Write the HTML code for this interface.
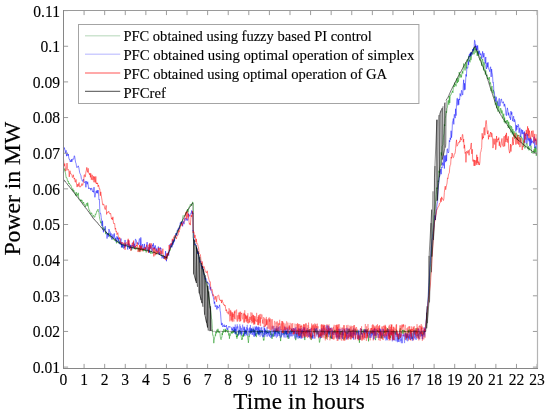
<!DOCTYPE html><html><head><meta charset="utf-8"><style>html,body{margin:0;padding:0;background:#fff;}svg{display:block}</style></head><body><svg width="550" height="414" viewBox="0 0 550 414">
<rect width="550" height="414" fill="#fff"/>
<g fill="none" stroke-linejoin="round">
<polyline stroke="#008c00" stroke-width="0.48" points="63.40,172.28 63.85,171.25 64.30,170.42 64.75,168.49 65.20,172.09 65.65,173.95 66.10,177.77 66.55,177.73 67.00,177.84 67.45,180.87 67.90,181.57 68.35,180.91 68.80,183.94 69.25,183.11 69.70,184.02 70.15,185.35 70.60,184.92 71.05,185.91 71.50,186.87 71.95,189.52 72.40,190.10 72.85,188.61 73.30,191.47 73.75,190.10 74.20,191.22 74.65,192.43 75.10,192.32 75.55,195.46 76.00,193.46 76.45,192.33 76.90,195.93 77.35,194.47 77.80,195.20 78.25,192.81 78.70,197.96 79.15,198.32 79.60,198.87 80.05,199.67 80.50,201.10 80.95,199.59 81.40,201.35 81.85,199.91 82.30,201.05 82.75,203.45 83.20,203.36 83.65,201.99 84.10,204.73 84.55,204.79 85.00,204.73 85.45,206.94 85.90,205.46 86.35,203.43 86.80,203.36 87.25,206.19 87.70,202.63 88.15,205.21 88.60,207.90 89.05,210.37 89.50,210.14 89.95,211.75 90.40,212.82 90.85,214.13 91.30,212.92 91.75,212.82 92.20,215.90 92.65,216.48 93.10,216.04 93.55,215.32 94.00,216.99 94.45,217.08 94.90,217.21 95.35,213.80 95.80,214.54 96.25,213.31 96.70,211.10 97.15,211.40 97.60,209.90 98.05,209.15 98.50,212.05 98.95,212.44 99.40,216.82 99.85,219.38 100.30,220.95 100.75,223.19 101.20,221.62 101.65,222.40 102.10,225.66 102.55,227.02 103.00,229.69 103.45,228.55 103.90,227.43 104.35,230.11 104.80,228.80 105.25,228.69 105.70,234.14 106.15,231.88 106.60,232.81 107.05,233.10 107.50,235.07 107.95,233.71 108.40,235.30 108.85,233.07 109.30,233.11 109.75,236.96 110.20,237.41 110.65,236.64 111.10,236.69 111.55,237.01 112.00,236.37 112.45,239.43 112.90,238.76 113.35,238.96 113.80,239.19 114.25,240.36 114.70,240.03 115.15,240.64 115.60,238.66 116.05,240.99 116.50,243.32 116.95,240.39 117.40,241.17 117.85,242.72 118.30,243.11 118.75,243.03 119.20,240.66 119.65,243.52 120.10,241.81 120.55,242.56 121.00,244.49 121.45,243.65 121.90,245.14 122.35,247.69 122.80,245.43 123.25,245.53 123.70,243.75 124.15,244.22 124.60,243.88 125.05,244.68 125.50,244.18 125.95,244.86 126.40,245.57 126.85,244.78 127.30,244.45 127.75,244.68 128.20,247.02 128.65,246.72 129.10,248.04 129.55,248.23 130.00,246.73 130.45,248.11 130.90,245.74 131.35,250.37 131.80,249.23 132.25,247.62 132.70,246.55 133.15,248.48 133.60,245.85 134.05,247.24 134.50,249.14 134.95,248.41 135.40,247.81 135.85,249.61 136.30,247.30 136.75,248.96 137.20,248.09 137.65,247.75 138.10,249.40 138.55,247.72 139.00,251.27 139.45,248.36 139.90,251.53 140.35,247.90 140.80,250.01 141.25,247.92 141.70,247.83 142.15,249.70 142.60,250.40 143.05,248.16 143.50,251.23 143.95,248.98 144.40,250.21 144.85,250.63 145.30,251.01 145.75,248.25 146.20,252.47 146.65,251.33 147.10,250.26 147.55,249.66 148.00,248.98 148.45,249.50 148.90,251.90 149.35,250.96 149.80,250.13 150.25,250.98 150.70,253.61 151.15,251.45 151.60,251.27 152.05,253.71 152.50,252.76 152.95,252.38 153.40,251.72 153.85,250.74 154.30,251.37 154.75,252.38 155.20,252.87 155.65,253.74 156.10,254.15 156.55,253.93 157.00,254.11 157.45,252.81 157.90,251.61 158.35,253.75 158.80,253.41 159.25,253.95 159.70,254.58 160.15,253.59 160.60,253.93 161.05,255.32 161.50,255.76 161.95,255.01 162.40,256.57 162.85,255.89 163.30,255.10 163.75,256.55 164.20,258.94 164.65,256.05 165.10,258.44 165.55,258.87 166.00,259.20 166.45,256.59 166.90,259.06 167.35,255.71 167.80,254.19 168.25,253.15 168.70,253.07 169.15,251.33 169.60,249.99 170.05,250.66 170.50,247.18 170.95,245.72 171.40,246.85 171.85,245.67 172.30,245.07 172.75,241.39 173.20,242.90 173.65,241.11 174.10,241.57 174.55,236.88 175.00,237.58 175.45,235.92 175.90,233.29 176.35,233.27 176.80,234.42 177.25,231.44 177.70,230.08 178.15,230.92 178.60,230.01 179.05,228.94 179.50,225.75 179.95,225.56 180.40,225.81 180.85,222.72 181.30,221.55 181.75,222.39 182.20,222.38 182.65,218.23 183.10,215.61 183.55,216.09 184.00,215.72 184.45,215.88 184.90,215.89 185.35,214.09 185.80,212.53 186.25,212.66 186.70,210.43 187.15,210.64 187.60,209.10 188.05,212.52 188.50,209.71 188.95,207.15 189.40,206.38 189.85,206.48 190.30,204.46 190.75,204.98 191.20,204.40 191.65,205.77 192.10,203.63 192.55,202.62 192.60,201.89 193.30,203.50 193.40,238.00 193.36,238.73 193.62,240.24 193.88,240.84 194.14,241.06 194.40,240.95 194.66,242.58 194.92,243.35 195.18,245.46 195.44,245.71 195.70,246.03 195.96,246.82 196.22,248.50 196.48,248.03 196.74,250.35 197.00,250.93 197.26,251.34 197.52,252.76 197.78,253.01 198.04,253.38 198.30,254.80 198.56,254.94 198.82,255.89 199.08,257.47 199.34,259.11 199.60,258.74 199.86,260.20 200.12,262.02 200.38,262.59 200.64,263.60 200.90,264.02 201.16,264.71 201.42,265.56 201.68,266.47 201.94,267.06 202.20,267.72 202.46,268.34 202.72,268.86 202.98,270.34 203.24,272.01 203.50,272.44 203.76,272.53 204.02,274.71 204.28,274.28 204.54,277.18 204.80,277.73 205.06,278.66 205.32,279.48 205.58,281.42 205.84,280.90 206.10,282.03 206.36,284.15 206.62,284.82 206.88,286.15 207.14,287.53 207.40,287.66 207.66,291.09 207.92,292.30 208.18,292.96 208.44,296.06 208.70,297.47 208.96,299.59 209.22,301.52 209.48,303.84 209.74,303.92 210.00,307.49 210.26,308.27 210.52,309.56 210.78,311.99 211.04,314.05 211.30,317.19 211.56,318.53 211.82,319.69 212.08,323.95 212.34,328.46 212.50,332.13 212.50,332.84 212.76,335.12 213.02,334.88 213.28,336.52 213.54,338.30 213.80,343.18 214.06,340.56 214.32,339.03 214.58,337.62 214.84,336.76 215.10,336.46 215.36,334.48 215.62,335.54 215.88,331.88 216.14,333.48 216.40,331.96 216.66,332.39 216.92,329.72 217.18,331.43 217.44,331.51 217.70,331.28 217.96,328.80 218.22,332.74 218.48,331.10 218.74,331.03 219.00,331.27 219.26,331.30 219.52,332.56 219.78,331.86 220.04,333.79 220.30,336.86 220.56,338.15 220.82,338.95 221.08,339.70 221.34,337.88 221.60,337.41 221.86,337.54 222.12,333.14 222.38,335.02 222.64,332.70 222.90,331.01 223.16,332.62 223.42,329.69 223.68,329.35 223.94,329.92 224.20,331.07 224.46,331.18 224.72,330.93 224.98,331.73 225.24,328.82 225.50,332.24 225.76,329.75 226.02,330.74 226.28,331.06 226.54,330.10 226.80,329.82 227.06,330.29 227.32,331.58 227.58,332.37 227.84,332.33 228.10,330.31 228.36,331.61 228.62,332.56 228.88,335.47 229.14,333.35 229.40,338.73 229.66,336.76 229.92,335.26 230.18,335.60 230.44,335.38 230.70,333.36 230.96,333.17 231.22,331.77 231.48,333.20 231.74,333.22 232.00,331.47 232.26,333.47 232.52,331.81 232.78,331.71 233.04,330.40 233.30,331.22 233.56,332.61 233.82,329.89 234.08,332.44 234.34,332.05 234.60,331.96 234.86,328.73 235.12,331.47 235.38,333.08 235.64,332.17 235.90,334.20 236.16,331.91 236.42,336.80 236.68,335.98 236.94,338.72 237.20,334.27 237.46,336.65 237.72,334.52 237.98,334.95 238.24,331.78 238.50,331.26 238.76,334.52 239.02,330.52 239.28,330.68 239.54,331.24 239.80,330.27 240.06,333.15 240.32,333.84 240.58,331.43 240.84,331.33 241.10,336.33 241.36,337.48 241.62,338.34 241.88,340.01 242.14,338.61 242.40,339.11 242.66,336.30 242.92,335.02 243.18,336.91 243.44,333.53 243.70,336.13 243.96,332.03 244.22,330.77 244.48,332.64 244.74,333.94 245.00,332.23 245.26,330.02 245.52,332.08 245.78,333.39 246.04,330.96 246.30,330.59 246.56,332.92 246.82,332.41 247.08,332.39 247.34,334.91 247.60,336.01 247.86,338.96 248.12,340.30 248.38,342.85 248.64,340.69 248.90,336.15 249.16,337.12 249.42,336.18 249.68,334.02 249.94,333.18 250.20,330.89 250.46,330.36 250.72,332.81 250.98,330.21 251.24,328.79 251.50,332.93 251.76,330.66 252.02,331.20 252.28,329.78 252.54,329.88 252.80,330.10 253.06,331.13 253.32,332.08 253.58,328.61 253.84,332.58 254.10,330.06 254.36,330.21 254.62,332.48 254.88,331.50 255.14,330.16 255.40,335.75 255.66,333.43 255.92,336.06 256.18,336.74 256.44,337.12 256.70,333.50 256.96,334.21 257.22,330.74 257.48,333.06 257.74,330.61 258.00,331.13 258.26,334.06 258.52,332.01 258.78,331.74 259.04,334.51 259.30,332.07 259.56,330.54 259.82,332.56 260.08,330.06 260.34,333.07 260.60,333.17 260.86,330.86 261.12,330.78 261.38,331.83 261.64,331.62 261.90,330.33 262.16,332.94 262.42,331.09 262.68,334.74 262.94,336.33 263.20,338.05 263.46,340.35 263.72,339.53 263.98,340.34 264.24,337.79 264.50,335.63 264.76,333.14 265.02,331.83 265.28,332.28 265.54,330.35 265.80,331.68 266.06,332.98 266.32,332.94 266.58,333.63 266.84,331.21 267.10,330.19 267.36,332.93 267.62,332.00 267.88,333.06 268.14,331.61 268.40,333.15 268.66,332.70 268.92,332.53 269.18,332.25 269.44,332.12 269.70,331.90 269.96,331.89 270.22,332.89 270.48,331.27 270.74,334.92 271.00,333.25 271.26,335.40 271.52,334.73 271.78,335.25 272.04,338.94 272.30,336.36 272.56,334.37 272.82,334.38 273.08,334.17 273.34,336.65 273.60,333.39 273.86,333.61 274.12,330.36 274.38,332.06 274.64,332.47 274.90,333.94 275.16,330.69 275.42,332.38 275.68,331.99 275.94,330.27 276.20,331.57 276.46,331.26 276.72,328.58 276.98,332.38 277.24,332.30 277.50,331.03 277.76,329.86 278.02,333.52 278.28,331.95 278.54,332.92 278.80,333.43 279.06,330.92 279.32,333.29 279.58,333.40 279.84,335.11 280.10,336.56 280.36,338.15 280.62,341.09 280.88,338.53 281.14,336.69 281.40,335.05 281.66,334.37 281.92,331.28 282.18,330.95 282.44,331.53 282.70,330.86 282.96,331.45 283.22,330.81 283.48,334.21 283.74,333.33 284.00,332.18 284.26,331.53 284.52,334.45 284.78,332.02 285.04,331.49 285.30,331.99 285.56,332.00 285.82,333.43 286.08,331.58 286.34,334.33 286.60,330.84 286.86,333.86 287.12,332.63 287.38,337.26 287.64,335.44 287.90,336.76 288.16,339.01 288.42,338.50 288.68,334.45 288.94,334.47 289.20,332.14 289.46,333.16 289.72,331.88 289.98,331.15 290.24,330.71 290.50,331.10 290.76,330.63 291.02,332.29 291.28,333.57 291.54,329.09 291.80,331.45 292.06,331.06 292.32,332.24 292.58,330.36 292.84,331.41 293.10,330.25 293.36,332.51 293.62,331.73 293.88,331.39 294.14,332.08 294.40,331.43 294.66,331.32 294.92,335.71 295.18,336.89 295.44,337.91 295.70,340.18 295.96,338.90 296.22,334.30 296.48,333.12 296.74,334.56 297.00,333.44 297.26,330.64 297.52,330.07 297.78,330.77 298.04,331.70 298.30,331.13 298.56,334.08 298.82,333.22 299.08,334.16 299.34,337.77 299.60,336.54 299.86,336.79 300.12,336.85 300.38,336.24 300.64,333.90 300.90,333.55 301.16,331.57 301.42,334.06 301.68,332.44 301.94,330.17 302.20,331.61 302.46,332.53 302.72,332.22 302.98,333.98 303.24,333.38 303.50,331.07 303.76,332.78 304.02,332.35 304.28,335.46 304.54,336.45 304.80,340.07 305.06,335.58 305.32,331.61 305.58,332.34 305.84,332.23 306.10,329.97 306.36,330.47 306.62,331.12 306.88,332.04 307.14,331.39 307.40,330.44 307.66,332.62 307.92,330.90 308.18,330.95 308.44,329.81 308.70,330.58 308.96,332.45 309.22,329.50 309.48,331.74 309.74,333.86 310.00,333.54 310.26,335.44 310.52,334.77 310.78,339.03 311.04,339.85 311.30,339.83 311.56,336.16 311.82,335.99 312.08,337.52 312.34,337.38 312.60,334.44 312.86,334.57 313.12,331.06 313.38,331.35 313.64,331.60 313.90,332.15 314.16,329.61 314.42,332.82 314.68,333.32 314.94,330.11 315.20,329.84 315.46,332.06 315.72,330.75 315.98,328.52 316.24,332.65 316.50,331.80 316.76,330.98 317.02,334.35 317.28,331.78 317.54,330.62 317.80,332.30 318.06,332.17 318.32,333.89 318.58,336.74 318.84,336.88 319.10,338.37 319.36,342.48 319.62,342.33 319.88,340.90 320.14,339.19 320.40,337.77 320.66,337.68 320.92,334.40 321.18,335.48 321.44,330.47 321.70,331.27 321.96,329.81 322.22,331.15 322.48,332.27 322.74,333.49 323.00,330.74 323.26,331.61 323.52,331.13 323.78,330.64 324.04,330.54 324.30,332.93 324.56,331.36 324.82,334.51 325.08,335.15 325.34,335.03 325.60,335.33 325.86,335.42 326.12,338.89 326.38,333.95 326.64,336.96 326.90,334.96 327.16,332.95 327.42,331.16 327.68,333.26 327.94,333.85 328.20,330.39 328.46,331.21 328.72,332.97 328.98,332.04 329.24,334.20 329.50,330.86 329.76,332.64 330.02,331.98 330.28,338.00 330.54,335.99 330.80,335.74 331.06,338.98 331.32,337.29 331.58,338.30 331.84,333.70 332.10,332.46 332.36,332.37 332.62,333.66 332.88,331.52 333.14,332.95 333.40,332.27 333.66,331.21 333.92,331.70 334.18,331.64 334.44,330.41 334.70,333.18 334.96,329.80 335.22,333.12 335.48,332.84 335.74,331.48 336.00,330.60 336.26,331.31 336.52,332.21 336.78,332.57 337.04,331.97 337.30,332.89 337.56,330.88 337.82,332.69 338.08,331.44 338.34,335.57 338.60,335.88 338.86,336.24 339.12,338.84 339.38,337.13 339.64,331.63 339.90,334.09 340.16,331.05 340.42,333.23 340.68,334.84 340.94,330.93 341.20,331.70 341.46,331.27 341.72,332.06 341.98,332.44 342.24,333.27 342.50,330.32 342.76,334.94 343.02,333.18 343.28,336.24 343.54,338.88 343.80,339.80 344.06,339.14 344.32,339.04 344.58,337.86 344.84,336.90 345.10,336.96 345.36,332.30 345.62,333.09 345.88,332.39 346.14,332.33 346.40,332.21 346.66,333.57 346.92,332.23 347.18,332.71 347.44,332.33 347.70,333.93 347.96,329.13 348.22,333.27 348.48,331.26 348.74,331.24 349.00,330.34 349.26,329.17 349.52,331.10 349.78,330.71 350.04,332.24 350.30,330.63 350.56,335.85 350.82,335.80 351.08,336.58 351.34,337.07 351.60,335.52 351.86,333.62 352.12,332.93 352.38,332.19 352.64,331.37 352.90,329.76 353.16,331.25 353.42,330.44 353.68,331.81 353.94,334.02 354.20,332.41 354.46,331.19 354.72,329.49 354.98,329.76 355.24,329.41 355.50,332.54 355.76,330.61 356.02,331.68 356.28,330.79 356.54,331.72 356.80,333.42 357.06,330.71 357.32,331.16 357.58,330.55 357.84,332.74 358.10,331.49 358.36,332.67 358.62,333.66 358.88,334.96 359.14,338.72 359.40,342.77 359.66,338.80 359.92,340.01 360.18,337.77 360.44,334.69 360.70,334.44 360.96,333.18 361.22,331.26 361.48,334.11 361.74,329.12 362.00,332.10 362.26,332.03 362.52,330.85 362.78,331.79 363.04,332.74 363.30,331.80 363.56,332.14 363.82,332.50 364.08,328.96 364.34,333.52 364.60,334.56 364.86,332.88 365.12,332.92 365.38,329.77 365.64,331.45 365.90,330.54 366.16,330.84 366.42,332.86 366.68,330.55 366.94,331.43 367.20,329.12 367.46,331.78 367.72,333.82 367.98,334.51 368.24,336.21 368.50,341.32 368.76,336.64 369.02,335.12 369.28,333.72 369.54,334.61 369.80,334.33 370.06,332.03 370.32,330.67 370.58,331.04 370.84,332.98 371.10,330.42 371.36,333.49 371.62,333.44 371.88,331.69 372.14,332.44 372.40,332.57 372.66,333.62 372.92,330.23 373.18,333.14 373.44,331.11 373.70,330.60 373.96,331.73 374.22,331.77 374.48,331.87 374.74,332.18 375.00,334.14 375.26,338.36 375.52,340.13 375.78,338.24 376.04,337.83 376.30,334.51 376.56,333.97 376.82,333.33 377.08,330.45 377.34,330.31 377.60,331.73 377.86,331.18 378.12,330.22 378.38,332.10 378.64,331.26 378.90,332.93 379.16,331.59 379.42,331.21 379.68,331.77 379.94,331.38 380.20,331.53 380.46,332.93 380.72,335.49 380.98,336.41 381.24,338.30 381.50,335.49 381.76,338.24 382.02,338.49 382.28,338.20 382.54,336.33 382.80,335.19 383.06,335.82 383.32,333.97 383.58,331.17 383.84,333.36 384.10,332.90 384.36,330.85 384.62,332.68 384.88,330.64 385.14,333.06 385.40,331.32 385.66,330.56 385.92,331.11 386.18,330.60 386.44,331.85 386.70,331.83 386.96,331.65 387.22,330.88 387.48,328.10 387.74,331.72 388.00,329.13 388.26,332.31 388.52,334.48 388.78,334.38 389.04,334.53 389.30,335.81 389.56,336.88 389.82,337.35 390.08,337.51 390.34,336.06 390.60,337.79 390.86,335.21 391.12,335.46 391.38,332.88 391.64,332.29 391.90,331.38 392.16,332.20 392.42,332.67 392.68,331.91 392.94,330.72 393.20,330.59 393.46,333.76 393.72,331.24 393.98,331.22 394.24,333.50 394.50,333.01 394.76,332.29 395.02,331.08 395.28,334.66 395.54,332.11 395.80,332.31 396.06,331.38 396.32,329.76 396.58,329.86 396.84,332.77 397.10,334.24 397.36,334.91 397.62,335.18 397.88,336.32 398.14,339.25 398.40,337.88 398.66,339.46 398.92,338.30 399.18,338.82 399.44,334.97 399.70,331.57 399.96,330.47 400.22,328.10 400.48,330.83 400.74,331.37 401.00,332.86 401.26,332.40 401.52,332.36 401.78,331.88 402.04,332.46 402.30,333.48 402.56,330.22 402.82,331.01 403.08,329.79 403.34,333.70 403.60,333.29 403.86,332.58 404.12,330.04 404.38,331.82 404.64,331.29 404.90,331.71 405.16,331.36 405.42,332.28 405.68,331.16 405.94,334.54 406.20,335.49 406.46,336.55 406.72,338.54 406.98,337.11 407.24,336.98 407.50,333.82 407.76,332.80 408.02,331.09 408.28,329.67 408.54,332.78 408.80,330.22 409.06,332.48 409.32,332.15 409.58,329.45 409.84,330.37 410.10,330.93 410.36,330.53 410.62,330.06 410.88,333.30 411.14,333.59 411.40,335.97 411.66,336.47 411.92,338.99 412.18,338.65 412.44,338.03 412.70,337.25 412.96,334.99 413.22,332.78 413.48,330.40 413.74,331.82 414.00,332.05 414.26,331.26 414.52,330.60 414.78,332.31 415.04,334.83 415.30,331.21 415.56,332.04 415.82,332.09 416.08,328.26 416.34,331.76 416.60,330.68 416.86,333.40 417.12,331.63 417.38,332.48 417.64,334.74 417.90,336.77 418.16,337.35 418.42,337.54 418.68,334.32 418.94,334.26 419.20,334.03 419.46,334.16 419.72,332.52 419.98,331.95 420.24,333.14 420.50,332.92 420.76,333.76 421.02,333.01 421.28,332.18 421.54,333.49 421.80,334.20 422.06,335.18 422.32,335.86 422.58,335.40 422.84,333.73 423.10,334.77 423.36,332.20 423.62,334.10 423.88,333.21 424.14,330.21 424.40,332.49 424.66,332.73 424.92,331.72 425.00,332.00 425.00,331.09 425.45,329.13 425.90,325.59 426.35,320.22 426.80,316.35 427.25,310.24 427.70,305.66 428.15,299.38 428.60,295.57 429.05,288.57 429.50,282.34 429.95,275.11 430.40,267.24 430.85,259.83 431.30,254.03 431.75,245.58 432.20,239.71 432.65,233.55 433.10,227.77 433.55,221.04 434.00,214.22 434.45,211.39 434.90,207.95 435.35,204.16 435.80,199.98 436.25,194.32 436.70,187.60 437.15,189.08 437.60,186.29 438.05,180.66 438.50,182.09 438.95,170.77 439.40,173.14 439.85,168.44 440.30,166.49 440.75,163.00 441.20,152.37 441.65,155.47 442.10,146.53 442.55,145.54 443.00,144.53 443.45,137.20 443.90,133.33 444.35,124.46 444.80,125.97 445.25,118.66 445.70,115.88 446.15,111.28 446.60,112.73 447.05,107.97 447.50,107.44 447.95,100.51 448.40,100.42 448.85,104.74 449.30,95.86 449.75,102.93 450.20,96.41 450.65,94.78 451.10,94.77 451.55,92.84 452.00,92.23 452.45,90.89 452.90,92.80 453.35,87.64 453.80,85.48 454.25,87.09 454.70,82.56 455.15,85.08 455.60,84.48 456.05,86.31 456.50,78.49 456.95,80.30 457.40,83.10 457.85,77.76 458.30,81.82 458.75,79.72 459.20,72.03 459.65,74.58 460.10,77.58 460.55,74.37 461.00,75.02 461.45,77.38 461.90,73.42 462.35,71.31 462.80,73.50 463.25,68.53 463.70,63.52 464.15,65.33 464.60,67.74 465.05,70.46 465.50,66.24 465.95,62.19 466.40,68.47 466.85,61.75 467.30,59.29 467.75,61.80 468.20,58.97 468.65,55.91 469.10,61.18 469.55,60.23 470.00,62.30 470.45,53.20 470.90,60.20 471.35,58.33 471.80,52.15 472.25,53.67 472.70,54.44 473.15,50.55 473.60,47.73 474.05,54.31 474.50,47.02 474.95,49.72 475.40,48.63 475.85,52.72 476.30,49.76 476.75,49.42 477.20,55.95 477.65,50.72 478.10,55.46 478.55,51.54 479.00,57.78 479.45,58.73 479.90,60.53 480.35,58.20 480.80,56.68 481.25,61.89 481.70,65.78 482.15,60.88 482.60,59.09 483.05,61.85 483.50,70.44 483.95,62.28 484.40,63.86 484.85,65.41 485.30,74.46 485.75,70.48 486.20,74.67 486.65,76.10 487.10,74.71 487.55,79.03 488.00,77.65 488.45,79.79 488.90,78.77 489.35,77.06 489.80,84.30 490.25,82.36 490.70,83.79 491.15,91.16 491.60,87.32 492.05,86.11 492.50,92.78 492.95,93.25 493.40,89.83 493.85,94.13 494.30,98.15 494.75,96.22 495.20,104.68 495.65,104.20 496.10,102.64 496.55,108.15 497.00,100.73 497.45,103.73 497.90,111.51 498.35,108.32 498.80,105.81 499.25,110.69 499.70,113.16 500.15,112.77 500.60,108.07 501.05,108.85 501.50,113.43 501.95,110.40 502.40,111.95 502.85,118.22 503.30,116.71 503.75,113.71 504.20,122.15 504.65,117.60 505.10,123.27 505.55,121.06 506.00,121.71 506.45,120.46 506.90,123.66 507.35,120.09 507.80,120.95 508.25,127.84 508.70,121.85 509.15,124.39 509.60,128.70 510.05,125.27 510.50,126.35 510.95,132.50 511.40,126.19 511.85,127.26 512.30,134.43 512.75,129.03 513.20,130.31 513.65,136.36 514.10,131.29 514.55,138.59 515.00,137.38 515.45,138.18 515.90,132.51 516.35,132.96 516.80,138.86 517.25,140.14 517.70,134.66 518.15,135.02 518.60,135.94 519.05,135.25 519.50,138.45 519.95,139.64 520.40,141.26 520.85,135.90 521.30,137.64 521.75,137.26 522.20,139.16 522.65,138.69 523.10,146.56 523.55,141.30 524.00,139.33 524.45,144.97 524.90,148.41 525.35,146.99 525.80,145.90 526.25,143.54 526.70,144.12 527.15,143.44 527.60,148.82 528.05,149.12 528.50,146.31 528.95,150.37 529.40,148.60 529.85,149.27 530.30,145.43 530.75,145.49 531.20,145.69 531.65,152.87 532.10,152.06 532.55,153.29 533.00,152.77 533.45,152.84 533.90,149.40 534.35,152.94 534.80,147.19 535.25,152.33 535.70,146.45 536.15,155.92 536.60,155.30 537.05,148.40 537.50,154.69"/>
<polyline stroke="#0000ff" stroke-width="0.48" points="63.40,147.23 63.85,149.54 64.30,147.56 64.75,149.14 65.20,151.20 65.65,153.25 66.10,150.31 66.55,156.16 67.00,153.40 67.45,153.15 67.90,155.84 68.35,154.00 68.80,157.96 69.25,159.44 69.70,159.29 70.15,161.66 70.60,160.58 71.05,161.96 71.50,159.31 71.95,161.66 72.40,159.03 72.85,159.12 73.30,159.11 73.75,159.29 74.20,155.68 74.65,156.12 75.10,159.26 75.55,162.21 76.00,163.29 76.45,165.73 76.90,167.64 77.35,166.97 77.80,166.91 78.25,165.81 78.70,167.01 79.15,169.41 79.60,172.35 80.05,173.64 80.50,174.58 80.95,175.68 81.40,178.82 81.85,179.44 82.30,181.13 82.75,181.41 83.20,179.88 83.65,179.13 84.10,182.59 84.55,182.68 85.00,181.58 85.45,181.42 85.90,187.32 86.35,181.25 86.80,182.82 87.25,184.26 87.70,181.71 88.15,184.81 88.60,188.78 89.05,187.80 89.50,188.00 89.95,188.75 90.40,188.16 90.85,190.29 91.30,188.31 91.75,188.11 92.20,189.63 92.65,191.82 93.10,191.11 93.55,192.33 94.00,187.16 94.45,194.41 94.90,197.32 95.35,195.25 95.80,191.82 96.25,190.75 96.70,193.15 97.15,190.32 97.60,193.28 98.05,190.03 98.50,192.52 98.95,199.83 99.40,199.36 99.85,211.55 100.30,213.83 100.75,213.56 101.20,217.43 101.65,220.47 102.10,225.94 102.55,220.81 103.00,228.76 103.45,232.29 103.90,229.25 104.35,229.74 104.80,228.76 105.25,226.12 105.70,231.38 106.15,231.53 106.60,233.04 107.05,238.57 107.50,233.81 107.95,233.28 108.40,236.71 108.85,229.02 109.30,229.88 109.75,232.29 110.20,231.82 110.65,235.84 111.10,233.36 111.55,239.32 112.00,239.01 112.45,237.24 112.90,234.36 113.35,237.41 113.80,238.24 114.25,233.38 114.70,237.57 115.15,238.85 115.60,237.80 116.05,241.97 116.50,241.44 116.95,236.28 117.40,239.34 117.85,237.15 118.30,241.49 118.75,237.97 119.20,243.34 119.65,242.32 120.10,244.37 120.55,241.75 121.00,238.53 121.45,247.56 121.90,242.39 122.35,246.82 122.80,244.38 123.25,245.22 123.70,248.56 124.15,244.63 124.60,247.71 125.05,239.94 125.50,246.58 125.95,243.69 126.40,244.15 126.85,244.71 127.30,245.80 127.75,249.57 128.20,240.08 128.65,245.47 129.10,243.54 129.55,248.88 130.00,244.68 130.45,247.26 130.90,245.08 131.35,248.17 131.80,249.29 132.25,245.19 132.70,246.21 133.15,241.95 133.60,246.48 134.05,247.78 134.50,243.69 134.95,248.08 135.40,239.08 135.85,239.48 136.30,240.46 136.75,242.62 137.20,243.67 137.65,243.07 138.10,242.77 138.55,244.61 139.00,241.00 139.45,238.59 139.90,239.26 140.35,249.11 140.80,237.44 141.25,244.04 141.70,249.15 142.15,247.08 142.60,244.08 143.05,246.47 143.50,248.80 143.95,249.70 144.40,243.87 144.85,248.39 145.30,246.95 145.75,249.25 146.20,249.99 146.65,245.18 147.10,242.10 147.55,247.13 148.00,250.89 148.45,248.03 148.90,246.91 149.35,253.02 149.80,243.70 150.25,249.19 150.70,245.28 151.15,247.12 151.60,247.37 152.05,251.43 152.50,244.83 152.95,246.08 153.40,243.31 153.85,249.17 154.30,246.71 154.75,249.27 155.20,245.30 155.65,247.40 156.10,251.46 156.55,248.57 157.00,251.22 157.45,251.40 157.90,249.43 158.35,246.56 158.80,254.01 159.25,252.22 159.70,254.90 160.15,247.19 160.60,248.86 161.05,248.21 161.50,252.37 161.95,258.33 162.40,257.59 162.85,256.10 163.30,256.72 163.75,258.61 164.20,255.85 164.65,257.93 165.10,257.38 165.55,251.15 166.00,256.26 166.45,261.22 166.90,255.54 167.35,255.25 167.80,252.99 168.25,252.34 168.70,255.78 169.15,250.97 169.60,247.91 170.05,244.13 170.50,247.60 170.95,243.83 171.40,243.13 171.85,247.39 172.30,246.23 172.75,239.99 173.20,244.55 173.65,242.78 174.10,239.31 174.55,241.34 175.00,235.45 175.45,235.13 175.90,233.50 176.35,232.99 176.80,235.81 177.25,230.22 177.70,229.42 178.15,228.66 178.60,229.79 179.05,227.55 179.50,228.79 179.95,224.48 180.40,222.33 180.85,223.47 181.30,224.13 181.75,221.76 182.20,223.75 182.65,226.40 183.10,221.18 183.55,222.00 184.00,224.19 184.45,219.76 184.90,218.94 185.35,218.02 185.80,220.58 186.25,220.38 186.70,218.63 187.15,218.58 187.60,220.52 188.05,218.84 188.50,213.43 188.95,215.34 189.40,215.34 189.85,216.43 190.30,214.39 190.75,213.40 191.20,213.63 191.65,210.51 192.10,213.53 192.55,211.91 192.60,213.98 192.90,213.00 193.10,231.20 193.10,230.31 193.55,234.78 194.00,239.44 194.45,243.39 194.90,245.03 195.35,243.80 195.80,245.26 196.25,246.03 196.70,248.22 197.15,249.08 197.60,253.94 198.05,251.79 198.50,254.05 198.95,258.57 199.40,260.00 199.85,262.53 200.30,261.08 200.75,260.89 201.20,266.21 201.65,265.10 202.10,269.03 202.55,266.76 203.00,268.34 203.45,272.66 203.90,274.59 204.35,275.74 204.80,277.42 205.25,279.58 205.70,278.24 206.15,278.78 206.60,281.09 207.05,282.96 207.50,282.34 207.95,282.30 208.40,283.93 208.85,284.05 209.30,283.64 209.75,287.73 210.20,289.59 210.65,286.89 211.10,290.83 211.55,291.40 212.00,293.67 212.45,293.91 212.90,295.95 213.35,297.50 213.80,299.74 214.25,303.63 214.70,301.66 215.15,306.58 215.60,307.04 216.05,305.25 216.50,307.87 216.95,309.50 217.40,305.64 217.85,308.18 218.30,308.03 218.75,306.80 219.20,306.24 219.65,304.78 220.10,310.56 220.55,313.11 221.00,319.83 221.45,325.17 221.90,322.86 222.35,323.30 222.80,326.97 223.25,325.82 223.70,326.11 224.15,324.61 224.60,326.94 225.05,325.87 225.50,326.93 225.95,326.43 226.40,325.09 226.85,329.31 227.30,328.53 227.75,329.98 228.20,326.83 228.65,326.82 229.10,326.20 229.55,327.17 230.00,327.38 230.45,326.78 230.90,327.30 231.35,327.56 231.80,330.49 232.25,328.54 232.70,330.52 233.15,326.79 233.60,327.59 234.05,331.53 234.50,327.13 234.95,327.33 235.00,329.59 235.00,333.88"/>
<polyline stroke="#0000ff" stroke-width="0.3" points="235.00,333.88 235.22,324.52 235.44,330.82 235.66,329.08 235.88,331.48 236.10,334.70 236.32,332.75 236.54,326.63 236.76,330.76 236.98,330.86 237.20,324.27 237.42,325.73 237.64,328.47 237.86,326.31 238.08,327.03 238.30,332.31 238.52,335.75 238.74,329.72 238.96,331.99 239.18,333.39 239.40,332.34 239.62,332.16 239.84,324.30 240.06,334.74 240.28,326.25 240.50,326.50 240.72,330.46 240.94,331.40 241.16,333.44 241.38,327.90 241.60,335.74 241.82,331.95 242.04,334.55 242.26,330.16 242.48,325.30 242.70,324.61 242.92,332.16 243.14,329.60 243.36,329.79 243.58,328.43 243.80,326.67 244.02,330.23 244.24,327.61 244.46,335.28 244.68,326.73 244.90,336.21 245.12,334.93 245.34,329.22 245.56,333.91 245.78,331.62 246.00,330.25 246.22,334.42 246.44,334.66 246.66,327.12 246.88,335.58 247.10,325.11 247.32,324.81 247.54,330.56 247.76,328.38 247.98,329.85 248.20,330.54 248.42,330.43 248.64,335.71 248.86,335.85 249.08,329.00 249.30,328.31 249.52,332.72 249.74,327.27 249.96,329.70 250.18,333.53 250.40,324.99 250.62,334.20 250.84,333.76 251.06,329.61 251.28,327.95 251.50,331.47 251.72,328.55 251.94,334.87 252.16,332.12 252.38,328.72 252.60,334.75 252.82,332.36 253.04,326.67 253.26,330.06 253.48,330.99 253.70,336.46 253.92,328.98 254.14,330.53 254.36,336.88 254.58,330.29 254.80,335.11 255.02,326.36 255.24,329.94 255.46,327.43 255.68,335.85 255.90,331.89 256.12,327.89 256.34,326.39 256.56,330.34 256.78,326.46 257.00,331.14 257.22,334.08 257.44,329.07 257.66,327.37 257.88,329.71 258.10,327.38 258.32,335.53 258.54,326.57 258.76,334.32 258.98,329.44 259.20,334.19 259.42,334.72 259.64,327.10 259.86,334.57 260.08,336.85 260.30,332.32 260.52,333.26 260.74,329.40 260.96,327.63 261.18,334.48 261.40,335.40 261.62,328.03 261.84,326.93 262.06,329.80 262.28,333.10 262.50,329.97 262.72,337.17 262.94,335.11 263.16,336.61 263.38,332.82 263.60,334.70 263.82,337.06 264.04,326.08 264.26,332.56 264.48,327.91 264.70,335.22 264.92,328.48 265.14,334.59 265.36,329.69 265.58,333.53 265.80,333.87 266.02,336.63 266.24,336.20 266.46,331.00 266.68,334.02 266.90,327.95 267.12,326.94 267.34,334.34 267.56,336.67 267.78,334.75 268.00,332.00 268.22,333.36 268.44,334.58 268.66,332.66 268.88,330.19 269.10,336.05 269.32,330.28 269.54,336.70 269.76,335.46 269.98,335.39 270.20,335.89 270.42,337.73 270.64,337.78 270.86,331.92 271.08,330.44 271.30,334.72 271.52,337.55 271.74,333.50 271.96,326.26 272.18,326.42 272.40,331.53 272.62,335.43 272.84,336.63 273.06,330.49 273.28,332.20 273.50,332.16 273.72,327.15 273.94,326.03 274.16,332.32 274.38,332.09 274.60,336.41 274.82,328.24 275.04,336.29 275.26,329.33 275.48,332.55 275.70,334.57 275.92,327.84 276.14,337.46 276.36,337.61 276.58,337.76 276.80,326.16 277.02,333.86 277.24,334.20 277.46,336.71 277.68,328.58 277.90,327.66 278.12,335.89 278.34,329.33 278.56,326.99 278.78,327.31 279.00,333.95 279.22,332.65 279.44,335.20 279.66,335.92 279.88,326.28 280.10,337.45 280.32,336.82 280.54,337.47 280.76,335.50 280.98,330.89 281.20,329.27 281.42,337.25 281.64,331.35 281.86,332.17 282.08,334.71 282.30,334.60 282.52,334.67 282.74,333.84 282.96,332.46 283.18,335.57 283.40,331.13 283.62,329.53 283.84,337.30 284.06,336.55 284.28,335.03 284.50,328.44 284.72,326.97 284.94,337.50 285.16,337.76 285.38,329.72 285.60,334.01 285.82,326.69 286.04,331.20 286.26,334.93 286.48,330.83 286.70,336.19 286.92,337.46 287.14,328.16 287.36,334.78 287.58,331.05 287.80,328.64 288.02,330.74 288.24,332.34 288.46,337.32 288.68,335.76 288.90,326.65 289.12,327.27 289.34,338.53 289.56,333.29 289.78,333.94 290.00,330.86 290.22,336.61 290.44,333.33 290.66,333.76 290.88,329.65 291.10,335.99 291.32,329.24 291.54,328.33 291.76,333.86 291.98,336.69 292.20,330.22 292.42,330.34 292.64,328.52 292.86,333.97 293.08,335.99 293.30,328.26 293.52,333.18 293.74,333.24 293.96,328.05 294.18,333.15 294.40,330.05 294.62,329.19 294.84,338.63 295.06,327.90 295.28,330.94 295.50,334.25 295.72,331.70 295.94,327.06 296.16,337.25 296.38,329.73 296.60,331.82 296.82,337.78 297.04,338.52 297.26,337.87 297.48,331.84 297.70,335.84 297.92,337.10 298.14,329.30 298.36,338.57 298.58,328.16 298.80,334.85 299.02,329.83 299.24,329.55 299.46,328.63 299.68,338.29 299.90,328.54 300.12,337.95 300.34,328.99 300.56,330.95 300.78,329.54 301.00,338.86 301.22,328.12 301.44,337.33 301.66,330.61 301.88,338.43 302.10,336.00 302.32,330.17 302.54,333.12 302.76,328.93 302.98,331.89 303.20,327.32 303.42,335.18 303.64,334.12 303.86,330.26 304.08,327.16 304.30,338.27 304.52,328.50 304.74,330.93 304.96,327.30 305.18,331.60 305.40,331.82 305.62,333.40 305.84,330.88 306.06,330.00 306.28,336.43 306.50,330.35 306.72,330.98 306.94,332.89 307.16,330.29 307.38,335.72 307.60,328.01 307.82,330.88 308.04,332.05 308.26,330.10 308.48,337.08 308.70,331.25 308.92,332.05 309.14,332.63 309.36,336.96 309.58,329.62 309.80,336.95 310.02,338.38 310.24,330.19 310.46,329.03 310.68,336.46 310.90,330.75 311.12,329.73 311.34,327.94 311.56,334.37 311.78,338.24 312.00,337.58 312.22,334.07 312.44,332.26 312.66,338.72 312.88,334.92 313.10,338.47 313.32,335.26 313.54,335.36 313.76,335.41 313.98,328.51 314.20,330.03 314.42,327.79 314.64,338.19 314.86,338.93 315.08,334.26 315.30,328.87 315.52,328.49 315.74,332.35 315.96,331.69 316.18,329.35 316.40,328.07 316.62,334.77 316.84,336.51 317.06,327.76 317.28,330.71 317.50,330.61 317.72,333.51 317.94,334.25 318.16,331.93 318.38,337.39 318.60,331.69 318.82,330.64 319.04,336.20 319.26,337.10 319.48,337.53 319.70,329.03 319.92,329.36 320.14,332.46 320.36,338.37 320.58,334.06 320.80,333.95 321.02,330.24 321.24,338.06 321.46,328.22 321.68,332.59 321.90,333.83 322.12,335.31 322.34,335.20 322.56,329.93 322.78,328.40 323.00,336.76 323.22,331.49 323.44,328.09 323.66,326.22 323.88,334.05 324.10,334.45 324.32,330.96 324.54,328.58 324.76,331.74 324.98,335.44 325.20,330.47 325.42,332.83 325.64,333.82 325.86,332.18 326.08,328.90 326.30,325.36 326.52,331.75 326.74,333.53 326.96,335.27 327.18,325.71 327.40,325.41 327.62,331.85 327.84,334.31 328.06,325.46 328.28,332.08 328.50,328.07 328.72,337.03 328.94,329.54 329.16,326.35 329.38,334.93 329.60,329.31 329.82,330.89 330.04,327.60 330.26,330.17 330.48,327.96 330.70,329.61 330.92,333.63 331.14,330.44 331.36,335.03 331.58,338.00 331.80,334.27 332.02,327.84 332.24,339.02 332.46,329.88 332.68,331.66 332.90,333.83 333.12,334.94 333.34,331.62 333.56,332.80 333.78,335.04 334.00,333.01 334.22,330.92 334.44,332.45 334.66,332.14 334.88,331.03 335.10,334.74 335.32,333.68 335.54,332.48 335.76,336.05 335.98,337.29 336.20,335.33 336.42,331.64 336.64,338.79 336.86,328.80 337.08,337.22 337.30,332.61 337.52,332.32 337.74,337.68 337.96,335.43 338.18,339.25 338.40,338.10 338.62,328.96 338.84,333.61 339.06,336.78 339.28,328.57 339.50,334.09 339.72,339.49 339.94,330.45 340.16,328.99 340.38,331.06 340.60,331.72 340.82,331.02 341.04,332.78 341.26,337.60 341.48,333.81 341.70,334.67 341.92,328.91 342.14,328.38 342.36,339.02 342.58,331.78 342.80,338.98 343.02,331.64 343.24,335.29 343.46,335.56 343.68,328.70 343.90,328.48 344.12,332.93 344.34,329.16 344.56,331.18 344.78,329.98 345.00,331.39 345.22,333.11 345.44,331.38 345.66,331.67 345.88,333.48 346.10,335.84 346.32,328.15 346.54,339.62 346.76,332.82 346.98,338.73 347.20,327.75 347.42,328.35 347.64,328.85 347.86,338.62 348.08,332.61 348.30,337.83 348.52,336.01 348.74,328.73 348.96,332.02 349.18,331.66 349.40,333.12 349.62,336.73 349.84,328.69 350.06,338.80 350.28,333.41 350.50,332.08 350.72,336.07 350.94,331.02 351.16,336.25 351.38,332.69 351.60,333.44 351.82,329.98 352.04,330.15 352.26,338.05 352.48,334.63 352.70,332.78 352.92,337.02 353.14,338.67 353.36,329.63 353.58,339.70 353.80,327.90 354.02,335.10 354.24,330.90 354.46,330.76 354.68,333.67 354.90,334.99 355.12,332.98 355.34,336.31 355.56,339.15 355.78,329.77 356.00,330.60 356.22,335.07 356.44,332.68 356.66,331.54 356.88,333.81 357.10,336.12 357.32,338.67 357.54,339.06 357.76,337.60 357.98,331.93 358.20,338.38 358.42,336.29 358.64,329.87 358.86,339.22 359.08,330.75 359.30,335.97 359.52,336.12 359.74,338.69 359.96,335.79 360.18,339.59 360.40,328.51 360.62,328.25 360.84,330.15 361.06,334.71 361.28,332.89 361.50,328.80 361.72,330.23 361.94,334.76 362.16,332.64 362.38,336.98 362.60,333.42 362.82,338.35 363.04,336.93 363.26,333.76 363.48,332.12 363.70,330.40 363.92,331.34 364.14,332.10 364.36,332.17 364.58,329.99 364.80,333.52 365.02,329.19 365.24,338.27 365.46,334.45 365.68,328.99 365.90,331.79 366.12,330.92 366.34,329.73 366.56,333.63 366.78,330.06 367.00,329.68 367.22,336.29 367.44,333.02 367.66,335.94 367.88,333.51 368.10,333.92 368.32,331.61 368.54,333.00 368.76,333.65 368.98,331.99 369.20,337.80 369.42,330.85 369.64,330.54 369.86,332.03 370.08,337.32 370.30,338.07 370.52,334.68 370.74,332.23 370.96,335.69 371.18,337.83 371.40,330.83 371.62,335.92 371.84,336.43 372.06,332.60 372.28,329.66 372.50,335.21 372.72,330.45 372.94,332.34 373.16,334.46 373.38,339.48 373.60,329.69 373.82,328.82 374.04,334.40 374.26,339.26 374.48,328.50 374.70,335.65 374.92,328.27 375.14,334.56 375.36,329.38 375.58,335.86 375.80,332.29 376.02,335.81 376.24,331.06 376.46,328.86 376.68,330.15 376.90,331.25 377.12,329.95 377.34,330.35 377.56,334.50 377.78,333.23 378.00,337.88 378.22,333.95 378.44,334.46 378.66,336.51 378.88,338.23 379.10,335.01 379.32,328.43 379.54,333.51 379.76,328.38 379.98,335.26 380.20,328.81 380.42,334.53 380.64,329.88 380.86,338.37 381.08,329.27 381.30,336.08 381.52,336.64 381.74,331.52 381.96,335.36 382.18,332.23 382.40,331.41 382.62,331.44 382.84,328.55 383.06,336.46 383.28,329.27 383.50,330.80 383.72,329.51 383.94,338.14 384.16,334.87 384.38,334.16 384.60,335.57 384.82,338.30 385.04,336.12 385.26,334.82 385.48,332.44 385.70,334.91 385.92,340.59 386.14,335.61 386.36,334.52 386.58,339.48 386.80,329.50 387.02,329.64 387.24,338.38 387.46,340.24 387.68,329.57 387.90,329.28 388.12,329.13 388.34,335.97 388.56,330.72 388.78,335.83 389.00,337.09 389.22,329.34 389.44,339.62 389.66,332.24 389.88,335.88 390.10,333.51 390.32,333.41 390.54,334.16 390.76,329.39 390.98,334.52 391.20,332.58 391.42,333.72 391.64,331.41 391.86,333.50 392.08,337.90 392.30,341.34 392.52,331.93 392.74,339.99 392.96,337.00 393.18,330.86 393.40,329.85 393.62,340.31 393.84,332.54 394.06,331.03 394.28,337.65 394.50,338.29 394.72,340.58 394.94,335.87 395.16,333.64 395.38,333.74 395.60,332.41 395.82,337.60 396.04,341.32 396.26,331.11 396.48,334.81 396.70,334.47 396.92,331.29 397.14,337.54 397.36,342.28 397.58,333.88 397.80,339.37 398.02,341.53 398.24,334.05 398.46,341.91 398.68,339.94 398.90,338.78 399.12,333.44 399.34,334.52 399.56,332.49 399.78,342.10 400.00,341.14 400.22,332.55 400.44,337.96 400.66,334.22 400.88,340.93 401.10,338.70 401.32,343.24 401.54,340.70 401.76,333.27 401.98,336.61 402.20,339.13 402.42,343.23 402.64,336.82 402.86,334.70 403.08,335.86 403.30,335.33 403.52,334.09 403.74,336.26 403.96,335.01 404.18,338.04 404.40,342.53 404.62,343.14 404.84,333.49 405.06,338.30 405.28,339.45 405.50,333.08 405.72,337.52 405.94,333.43 406.16,335.29 406.38,334.70 406.60,340.48 406.82,333.40 407.04,336.96 407.26,337.40 407.48,334.22 407.70,341.30 407.92,334.03 408.14,333.89 408.36,338.26 408.58,335.77 408.80,338.58 409.02,331.69 409.24,331.60 409.46,338.62 409.68,334.42 409.90,340.01 410.12,332.50 410.34,332.55 410.56,339.99 410.78,333.94 411.00,330.89 411.22,332.18 411.44,338.74 411.66,332.66 411.88,336.12 412.10,339.43 412.32,336.71 412.54,338.38 412.76,341.04 412.98,332.88 413.20,339.77 413.42,335.84 413.64,331.61 413.86,330.75 414.08,333.07 414.30,330.75 414.52,338.33 414.74,335.73 414.96,329.54 415.18,339.51 415.40,336.09 415.62,334.23 415.84,330.57 416.06,334.49 416.28,339.83 416.50,335.80 416.72,334.26 416.94,336.02 417.16,335.30 417.38,336.14 417.60,331.02 417.82,330.38 418.04,328.72 418.26,338.52 418.48,328.54 418.70,331.55 418.92,335.46 419.14,334.41 419.36,339.19 419.58,330.90 419.80,329.68 420.02,330.21 420.24,334.23 420.46,331.71 420.68,333.65 420.90,336.41 421.12,331.98 421.34,336.08 421.56,328.30 421.78,334.59 422.00,338.89 422.22,339.06 422.44,334.57 422.66,339.36 422.88,330.24 423.10,330.84 423.32,332.50 423.54,333.08 423.76,336.66 423.98,332.05 424.20,327.11 424.42,334.79 424.64,328.91 424.86,336.68 425.00,328.54"/>
<polyline stroke="#0000ff" stroke-width="0.48" points="425.00,328.54 425.00,331.50 425.45,326.47 425.90,322.66 426.35,317.86 426.80,312.05 427.25,308.09 427.70,303.09 428.15,298.33 428.60,288.96 429.05,281.86 429.50,275.16 429.95,266.38 430.40,260.83 430.85,253.62 431.30,247.13 431.75,244.52 432.20,239.58 432.65,237.58 433.10,232.13 433.55,227.95 434.00,224.42 434.45,221.70 434.90,215.44 435.35,220.07 435.80,214.37 436.25,210.97 436.70,208.53 437.15,203.96 437.60,201.94 438.05,191.24 438.50,185.31 438.95,181.17 439.40,177.09 439.85,175.49 440.30,172.83 440.75,169.06 441.20,174.23 441.65,167.32 442.10,167.99 442.55,162.62 443.00,164.92 443.45,165.47 443.90,156.05 444.35,168.55 444.80,155.43 445.25,156.00 445.70,162.17 446.15,154.90 446.60,161.05 447.05,149.52 447.50,148.71 447.95,152.43 448.40,153.00 448.85,151.41 449.30,140.37 449.75,141.83 450.20,137.85 450.65,139.64 451.10,130.73 451.55,137.73 452.00,132.97 452.45,121.94 452.90,121.07 453.35,118.44 453.80,124.39 454.25,114.33 454.70,114.83 455.15,118.17 455.60,108.78 456.05,115.65 456.50,104.30 456.95,98.48 457.40,98.21 457.85,105.43 458.30,99.32 458.75,104.75 459.20,98.89 459.65,99.83 460.10,93.49 460.55,95.78 461.00,96.26 461.45,90.25 461.90,90.77 462.35,94.87 462.80,94.97 463.25,85.13 463.70,79.76 464.15,90.26 464.60,83.21 465.05,89.69 465.50,83.44 465.95,74.37 466.40,76.40 466.85,67.50 467.30,67.84 467.75,68.26 468.20,61.54 468.65,64.90 469.10,55.06 469.55,53.84 470.00,56.83 470.45,52.37 470.90,55.97 471.35,52.40 471.80,54.64 472.25,52.93 472.70,49.02 473.15,51.16 473.60,48.49 474.05,48.12 474.50,40.17 474.95,40.56 475.40,47.18 475.85,44.60 476.30,50.42 476.75,46.02 477.20,49.94 477.65,45.37 478.10,49.61 478.55,53.28 479.00,54.28 479.45,50.72 479.90,53.26 480.35,55.19 480.80,53.45 481.25,54.39 481.70,58.75 482.15,57.45 482.60,51.35 483.05,54.59 483.50,57.27 483.95,53.15 484.40,59.75 484.85,60.98 485.30,63.44 485.75,56.96 486.20,66.89 486.65,69.01 487.10,62.91 487.55,67.28 488.00,62.30 488.45,67.87 488.90,69.39 489.35,70.21 489.80,71.77 490.25,67.17 490.70,66.78 491.15,76.94 491.60,69.04 492.05,72.94 492.50,74.40 492.95,82.99 493.40,82.56 493.85,90.87 494.30,91.65 494.75,96.19 495.20,97.95 495.65,101.53 496.10,96.73 496.55,98.97 497.00,102.61 497.45,102.43 497.90,105.14 498.35,105.87 498.80,100.20 499.25,98.36 499.70,106.17 500.15,105.88 500.60,101.33 501.05,99.05 501.50,99.01 501.95,102.21 502.40,103.11 502.85,102.91 503.30,101.63 503.75,103.67 504.20,106.42 504.65,103.92 505.10,105.89 505.55,109.27 506.00,114.78 506.45,115.66 506.90,110.66 507.35,107.86 507.80,110.03 508.25,115.35 508.70,112.59 509.15,114.99 509.60,117.44 510.05,116.96 510.50,119.81 510.95,111.13 511.40,114.57 511.85,112.33 512.30,119.08 512.75,121.11 513.20,117.69 513.65,116.22 514.10,122.03 514.55,119.38 515.00,120.61 515.45,123.76 515.90,131.44 516.35,125.17 516.80,129.79 517.25,126.19 517.70,127.02 518.15,124.28 518.60,125.25 519.05,132.72 519.50,129.06 519.95,127.79 520.40,136.81 520.85,136.10 521.30,129.34 521.75,131.98 522.20,134.17 522.65,129.96 523.10,133.69 523.55,132.58 524.00,139.49 524.45,131.50 524.90,142.86 525.35,134.36 525.80,135.82 526.25,133.06 526.70,143.41 527.15,142.70 527.60,133.89 528.05,139.72 528.50,138.38 528.95,141.27 529.40,138.34 529.85,146.09 530.30,137.54 530.75,145.06 531.20,138.54 531.65,143.25 532.10,140.70 532.55,142.00 533.00,142.07 533.45,143.44 533.90,136.86 534.35,136.88 534.80,147.94 535.25,139.44 535.70,140.80 536.15,139.52 536.60,144.51 537.05,148.69 537.50,141.83"/>
<polyline stroke="#ff0000" stroke-width="0.48" points="63.40,157.47 63.85,162.83 64.30,166.20 64.75,163.59 65.20,166.93 65.65,171.11 66.10,170.29 66.55,169.06 67.00,163.07 67.45,168.63 67.90,170.26 68.35,169.46 68.80,170.54 69.25,176.88 69.70,171.59 70.15,170.82 70.60,173.98 71.05,173.60 71.50,174.30 71.95,175.31 72.40,177.59 72.85,177.08 73.30,174.76 73.75,177.45 74.20,179.22 74.65,178.08 75.10,182.10 75.55,182.15 76.00,179.41 76.45,182.82 76.90,186.94 77.35,186.77 77.80,183.99 78.25,186.35 78.70,183.65 79.15,182.55 79.60,187.01 80.05,186.84 80.50,187.03 80.95,185.50 81.40,185.75 81.85,183.62 82.30,185.15 82.75,185.42 83.20,182.46 83.65,182.11 84.10,174.86 84.55,174.74 85.00,177.12 85.45,176.18 85.90,172.00 86.35,170.14 86.80,167.36 87.25,171.08 87.70,172.36 88.15,168.29 88.60,172.82 89.05,173.60 89.50,174.79 89.95,172.94 90.40,177.34 90.85,173.52 91.30,179.75 91.75,177.29 92.20,174.83 92.65,179.99 93.10,179.75 93.55,176.29 94.00,182.28 94.45,176.63 94.90,180.04 95.35,182.55 95.80,176.42 96.25,183.88 96.70,182.79 97.15,183.93 97.60,182.86 98.05,186.72 98.50,185.07 98.95,186.68 99.40,189.05 99.85,188.82 100.30,195.75 100.75,191.84 101.20,195.05 101.65,197.98 102.10,200.68 102.55,204.19 103.00,205.17 103.45,203.86 103.90,204.63 104.35,206.40 104.80,208.90 105.25,209.58 105.70,207.88 106.15,205.40 106.60,214.42 107.05,212.65 107.50,211.89 107.95,212.66 108.40,211.55 108.85,211.20 109.30,213.15 109.75,213.99 110.20,214.05 110.65,213.29 111.10,216.47 111.55,219.15 112.00,217.91 112.45,219.84 112.90,216.84 113.35,222.10 113.80,223.81 114.25,223.13 114.70,223.66 115.15,229.31 115.60,228.11 116.05,231.95 116.50,231.38 116.95,234.71 117.40,233.88 117.85,232.63 118.30,236.55 118.75,236.82 119.20,239.30 119.65,237.59 120.10,237.85 120.55,241.99 121.00,243.38 121.45,242.54 121.90,243.68 122.35,242.33 122.80,243.58 123.25,244.23 123.70,243.20 124.15,242.55 124.60,243.02 125.05,249.82 125.50,243.13 125.95,242.64 126.40,242.51 126.85,243.71 127.30,244.75 127.75,241.00 128.20,238.77 128.65,245.61 129.10,240.34 129.55,245.98 130.00,245.88 130.45,249.05 130.90,250.79 131.35,247.14 131.80,244.57 132.25,242.87 132.70,244.08 133.15,246.59 133.60,240.58 134.05,246.90 134.50,246.74 134.95,248.75 135.40,246.01 135.85,247.37 136.30,245.04 136.75,245.93 137.20,242.24 137.65,247.84 138.10,252.07 138.55,248.15 139.00,248.84 139.45,245.03 139.90,252.13 140.35,245.84 140.80,250.46 141.25,248.52 141.70,245.51 142.15,251.34 142.60,248.49 143.05,249.04 143.50,249.91 143.95,248.61 144.40,247.65 144.85,250.18 145.30,247.73 145.75,249.17 146.20,247.12 146.65,244.81 147.10,247.25 147.55,247.85 148.00,249.40 148.45,252.87 148.90,244.61 149.35,249.96 149.80,243.25 150.25,246.70 150.70,248.32 151.15,243.32 151.60,244.52 152.05,250.41 152.50,250.25 152.95,249.75 153.40,247.81 153.85,256.45 154.30,249.79 154.75,247.82 155.20,255.24 155.65,252.22 156.10,249.42 156.55,254.01 157.00,251.06 157.45,252.53 157.90,251.41 158.35,247.80 158.80,253.66 159.25,251.37 159.70,248.03 160.15,248.90 160.60,254.22 161.05,250.72 161.50,252.26 161.95,254.36 162.40,253.17 162.85,248.71 163.30,255.32 163.75,256.53 164.20,256.66 164.65,259.18 165.10,255.88 165.55,257.42 166.00,260.11 166.45,253.52 166.90,258.27 167.35,257.13 167.80,253.24 168.25,255.17 168.70,251.17 169.15,245.01 169.60,249.73 170.05,246.04 170.50,245.10 170.95,243.38 171.40,244.96 171.85,242.29 172.30,238.84 172.75,240.86 173.20,240.77 173.65,236.86 174.10,236.88 174.55,236.36 175.00,235.22 175.45,236.73 175.90,237.60 176.35,238.93 176.80,236.72 177.25,235.70 177.70,235.33 178.15,235.13 178.60,230.64 179.05,232.26 179.50,230.53 179.95,228.62 180.40,227.00 180.85,225.99 181.30,225.63 181.75,222.56 182.20,225.62 182.65,223.50 183.10,222.90 183.55,222.53 184.00,222.50 184.45,218.65 184.90,218.84 185.35,214.57 185.80,212.30 186.25,212.14 186.70,219.37 187.15,211.21 187.60,215.79 188.05,217.45 188.50,213.91 188.95,221.18 189.40,224.24 189.85,223.42 190.30,225.10 190.75,219.63 191.20,215.06 191.65,216.95 192.10,213.84 192.55,210.98 192.60,210.94 192.90,214.00 193.20,233.00 193.20,231.39 193.65,231.37 194.10,232.40 194.55,237.85 195.00,234.91 195.45,238.38 195.90,242.08 196.35,238.83 196.80,243.98 197.25,243.55 197.70,244.52 198.15,246.59 198.60,247.84 199.05,252.94 199.50,253.84 199.95,254.19 200.40,254.53 200.85,258.65 201.30,263.43 201.75,264.60 202.20,261.48 202.65,265.02 203.10,267.52 203.55,267.67 204.00,266.45 204.45,267.43 204.90,270.06 205.35,271.71 205.80,272.22 206.25,272.49 206.70,273.04 207.15,270.79 207.60,273.79 208.05,276.24 208.50,277.32 208.95,279.58 209.40,281.12 209.85,282.24 210.30,281.74 210.75,288.39 211.20,290.48 211.65,289.98 212.10,289.47 212.55,292.00 213.00,295.66 213.45,294.67 213.90,296.14 214.35,297.05 214.80,299.62 215.25,298.56 215.70,296.16 216.15,299.43 216.60,301.72 217.05,296.61 217.50,295.79 217.95,295.43 218.40,295.19 218.85,295.40 219.30,299.43 219.75,299.16 220.20,300.71 220.65,300.41 221.10,299.96 221.55,303.06 222.00,299.79 222.45,301.37 222.90,302.13 223.35,304.16 223.80,305.08 224.25,304.60 224.70,306.03 225.15,305.25 225.60,308.31 226.05,311.00 226.50,309.64 226.95,312.41 227.40,311.85 227.85,312.78 228.30,314.25 228.50,311.84 228.50,311.68"/>
<polyline stroke="#ff0000" stroke-width="0.3" points="228.50,311.68 228.72,312.23 228.94,308.23 229.16,309.24 229.38,308.88 229.60,312.66 229.82,321.43 230.04,310.66 230.26,316.15 230.48,311.90 230.70,309.87 230.92,320.47 231.14,311.43 231.36,311.72 231.58,320.59 231.80,313.09 232.02,312.47 232.24,322.10 232.46,312.32 232.68,320.56 232.90,313.70 233.12,317.02 233.34,313.67 233.56,313.99 233.78,321.66 234.00,321.30 234.22,311.72 234.44,318.83 234.66,311.18 234.88,313.21 235.10,310.23 235.32,317.74 235.54,318.78 235.76,319.06 235.98,319.44 236.20,314.52 236.42,311.70 236.64,309.47 236.86,315.15 237.08,321.58 237.30,315.29 237.52,317.48 237.74,321.41 237.96,320.72 238.18,319.14 238.40,317.24 238.62,312.57 238.84,319.30 239.06,315.01 239.28,318.78 239.50,312.52 239.72,321.86 239.94,311.78 240.16,319.94 240.38,321.25 240.60,311.67 240.82,320.95 241.04,318.10 241.26,317.58 241.48,313.06 241.70,314.04 241.92,312.84 242.14,315.54 242.36,318.24 242.58,319.30 242.80,319.02 243.02,314.37 243.24,314.25 243.46,319.82 243.68,322.57 243.90,312.80 244.12,315.30 244.34,313.54 244.56,322.64 244.78,310.20 245.00,321.60 245.22,320.03 245.44,314.42 245.66,319.00 245.88,315.01 246.10,318.54 246.32,315.84 246.54,322.25 246.76,316.36 246.98,321.02 247.20,318.00 247.42,315.41 247.64,323.18 247.86,313.21 248.08,322.52 248.30,323.53 248.52,321.86 248.74,318.81 248.96,319.02 249.18,323.04 249.40,316.66 249.62,321.79 249.84,321.20 250.06,322.34 250.28,316.96 250.50,319.77 250.72,312.53 250.94,312.32 251.16,312.83 251.38,321.05 251.60,316.16 251.82,323.40 252.04,312.67 252.26,313.94 252.48,322.62 252.70,317.24 252.92,314.71 253.14,322.05 253.36,315.00 253.58,324.66 253.80,315.63 254.02,323.27 254.24,318.39 254.46,324.37 254.68,316.11 254.90,324.34 255.12,316.30 255.34,318.24 255.56,320.69 255.78,319.72 256.00,321.29 256.22,321.67 256.44,316.15 256.66,312.83 256.88,322.18 257.10,320.63 257.32,320.20 257.54,319.37 257.76,325.05 257.98,316.89 258.20,324.94 258.42,315.31 258.64,322.21 258.86,325.47 259.08,315.29 259.30,323.35 259.52,316.94 259.74,314.21 259.96,319.10 260.18,322.66 260.40,317.34 260.62,326.10 260.84,313.86 261.06,317.40 261.28,318.44 261.50,318.91 261.72,318.07 261.94,314.54 262.16,317.08 262.38,317.84 262.60,323.27 262.82,319.52 263.04,324.09 263.26,320.54 263.48,319.30 263.70,317.02 263.92,318.01 264.14,326.85 264.36,321.13 264.58,319.38 264.80,318.23 265.02,326.87 265.24,324.72 265.46,324.68 265.68,326.20 265.90,318.96 266.12,325.41 266.34,316.92 266.56,324.73 266.78,320.36 267.00,324.86 267.22,319.29 267.44,321.02 267.66,325.23 267.88,328.82 268.10,321.12 268.32,318.97 268.54,318.48 268.76,325.68 268.98,328.66 269.20,317.34 269.42,321.69 269.64,319.49 269.86,329.79 270.08,319.19 270.30,318.45 270.52,327.63 270.74,330.71 270.96,327.87 271.18,319.39 271.40,323.29 271.62,324.84 271.84,329.84 272.06,328.04 272.28,319.11 272.50,324.31 272.72,328.63 272.94,325.60 273.16,327.25 273.38,331.19 273.60,331.38 273.82,329.57 274.04,326.17 274.26,322.77 274.48,320.88 274.70,321.02 274.92,327.21 275.14,328.97 275.36,330.12 275.58,330.88 275.80,322.78 276.02,323.42 276.24,321.66 276.46,326.22 276.68,331.50 276.90,329.08 277.12,324.94 277.34,321.37 277.56,330.30 277.78,331.03 278.00,329.40 278.22,323.26 278.44,324.57 278.66,327.12 278.88,331.50 279.10,322.77 279.32,325.10 279.54,320.47 279.76,319.76 279.98,322.93 280.20,330.32 280.42,328.62 280.64,326.07 280.86,325.24 281.08,323.40 281.30,329.95 281.52,326.37 281.74,320.98 281.96,328.26 282.18,333.05 282.40,321.13 282.62,333.18 282.84,321.55 283.06,324.30 283.28,333.03 283.50,333.01 283.72,322.81 283.94,329.81 284.16,328.45 284.38,325.70 284.60,330.75 284.82,328.85 285.04,323.57 285.26,327.05 285.48,329.94 285.70,328.83 285.92,327.85 286.14,330.42 286.36,322.62 286.58,321.46 286.80,321.37 287.02,329.05 287.24,326.67 287.46,331.93 287.68,333.73 287.90,322.59 288.12,326.10 288.34,326.67 288.56,328.35 288.78,333.11 289.00,329.13 289.22,325.33 289.44,330.02 289.66,325.72 289.88,328.70 290.10,322.80 290.32,328.89 290.54,327.81 290.76,330.02 290.98,329.03 291.20,329.15 291.42,331.32 291.64,323.51 291.86,331.58 292.08,329.96 292.30,330.84 292.52,327.11 292.74,323.06 292.96,333.98 293.18,332.78 293.40,334.76 293.62,328.09 293.84,333.64 294.06,333.51 294.28,329.36 294.50,333.96 294.72,332.88 294.94,323.66 295.16,324.10 295.38,327.69 295.60,329.36 295.82,330.95 296.04,329.84 296.26,333.93 296.48,332.99 296.70,323.95 296.92,327.06 297.14,334.23 297.36,332.54 297.58,322.97 297.80,330.95 298.02,324.48 298.24,329.42 298.46,335.83 298.68,323.92 298.90,333.69 299.12,329.31 299.34,335.78 299.56,334.27 299.78,323.97 300.00,331.53 300.22,335.83 300.44,325.99 300.66,333.26 300.88,325.64 301.10,324.84 301.32,327.03 301.54,326.41 301.76,337.82 301.98,325.49 302.20,328.75 302.42,329.83 302.64,333.36 302.86,338.13 303.08,332.12 303.30,336.35 303.52,323.99 303.74,333.03 303.96,324.76 304.18,336.68 304.40,332.02 304.62,324.25 304.84,336.43 305.06,330.93 305.28,330.28 305.50,323.43 305.72,337.49 305.94,330.83 306.16,336.81 306.38,323.42 306.60,333.71 306.82,328.57 307.04,331.33 307.26,332.84 307.48,336.29 307.70,337.97 307.92,325.13 308.14,336.93 308.36,324.32 308.58,322.54 308.80,327.50 309.02,327.24 309.24,335.53 309.46,331.97 309.68,329.07 309.90,335.93 310.12,338.42 310.34,333.44 310.56,333.66 310.78,337.23 311.00,327.58 311.22,339.55 311.44,325.64 311.66,323.44 311.88,336.68 312.10,325.67 312.32,328.44 312.54,331.48 312.76,324.67 312.98,330.00 313.20,328.84 313.42,324.30 313.64,333.11 313.86,330.55 314.08,325.62 314.30,336.33 314.52,329.92 314.74,323.41 314.96,337.95 315.18,329.97 315.40,324.60 315.62,327.97 315.84,327.42 316.06,323.85 316.28,328.75 316.50,326.02 316.72,326.80 316.94,334.66 317.16,325.91 317.38,323.60 317.60,326.30 317.82,328.30 318.04,326.11 318.26,333.48 318.48,338.30 318.70,337.49 318.92,331.39 319.14,336.77 319.36,336.87 319.58,334.25 319.80,337.13 320.02,329.94 320.24,336.24 320.46,332.43 320.68,336.13 320.90,336.16 321.12,324.73 321.34,337.81 321.56,324.27 321.78,330.94 322.00,333.75 322.22,337.72 322.44,324.72 322.66,335.18 322.88,329.65 323.10,324.51 323.32,329.48 323.54,334.74 323.76,325.28 323.98,338.32 324.20,324.65 324.42,328.01 324.64,329.57 324.86,325.08 325.08,339.73 325.30,340.43 325.52,339.38 325.74,327.38 325.96,338.16 326.18,329.74 326.40,328.91 326.62,335.73 326.84,325.45 327.06,324.09 327.28,339.83 327.50,330.02 327.72,337.51 327.94,331.24 328.16,325.58 328.38,332.07 328.60,326.91 328.82,325.37 329.04,324.32 329.26,330.81 329.48,328.40 329.70,329.71 329.92,340.35 330.14,338.10 330.36,336.00 330.58,328.15 330.80,336.75 331.02,335.86 331.24,332.98 331.46,328.06 331.68,327.53 331.90,331.13 332.12,328.70 332.34,339.04 332.56,331.92 332.78,335.52 333.00,339.25 333.22,334.56 333.44,326.73 333.66,329.43 333.88,339.68 334.10,324.78 334.32,327.77 334.54,334.51 334.76,338.52 334.98,337.95 335.20,336.42 335.42,335.94 335.64,330.35 335.86,325.04 336.08,334.81 336.30,325.23 336.52,337.57 336.74,326.23 336.96,324.42 337.18,340.99 337.40,326.85 337.62,333.89 337.84,325.05 338.06,340.67 338.28,324.28 338.50,335.69 338.72,338.34 338.94,329.04 339.16,324.13 339.38,324.63 339.60,325.04 339.82,336.83 340.04,332.98 340.26,339.24 340.48,334.75 340.70,334.10 340.92,327.43 341.14,327.80 341.36,340.64 341.58,340.19 341.80,331.44 342.02,337.52 342.24,336.24 342.46,328.72 342.68,327.40 342.90,336.73 343.12,340.37 343.34,340.72 343.56,330.07 343.78,325.11 344.00,329.43 344.22,325.19 344.44,340.79 344.66,329.22 344.88,338.41 345.10,328.19 345.32,340.32 345.54,332.32 345.76,338.18 345.98,334.19 346.20,337.02 346.42,325.24 346.64,325.49 346.86,330.07 347.08,338.92 347.30,339.46 347.52,336.08 347.74,334.18 347.96,324.83 348.18,339.78 348.40,335.22 348.62,334.47 348.84,338.31 349.06,328.02 349.28,334.54 349.50,335.61 349.72,336.86 349.94,325.61 350.16,336.38 350.38,339.35 350.60,334.68 350.82,326.89 351.04,339.62 351.26,325.74 351.48,327.92 351.70,338.53 351.92,334.01 352.14,329.71 352.36,337.66 352.58,335.01 352.80,326.01 353.02,327.95 353.24,337.78 353.46,337.79 353.68,325.26 353.90,332.87 354.12,336.12 354.34,329.53 354.56,325.07 354.78,331.09 355.00,339.89 355.22,336.41 355.44,327.63 355.66,338.36 355.88,335.35 356.10,328.93 356.32,328.57 356.54,327.01 356.76,330.88 356.98,330.12 357.20,328.85 357.42,338.85 357.64,336.94 357.86,332.38 358.08,340.37 358.30,335.45 358.52,340.18 358.74,338.02 358.96,334.78 359.18,335.79 359.40,337.17 359.62,336.87 359.84,338.85 360.06,329.78 360.28,330.18 360.50,328.20 360.72,339.67 360.94,339.36 361.16,331.51 361.38,330.82 361.60,326.25 361.82,340.58 362.04,335.42 362.26,340.38 362.48,334.75 362.70,332.74 362.92,336.73 363.14,339.08 363.36,338.36 363.58,329.88 363.80,332.62 364.02,340.06 364.24,332.61 364.46,337.63 364.68,332.92 364.90,338.15 365.12,325.16 365.34,324.02 365.56,325.54 365.78,331.41 366.00,330.25 366.22,340.30 366.44,340.95 366.66,326.29 366.88,338.18 367.10,332.66 367.32,338.30 367.54,330.28 367.76,337.14 367.98,324.08 368.20,331.95 368.42,329.66 368.64,328.28 368.86,329.11 369.08,331.13 369.30,332.43 369.52,332.92 369.74,336.49 369.96,338.06 370.18,340.35 370.40,335.38 370.62,328.36 370.84,333.84 371.06,331.45 371.28,328.00 371.50,329.65 371.72,327.90 371.94,333.16 372.16,325.12 372.38,333.23 372.60,331.00 372.82,324.11 373.04,328.69 373.26,340.51 373.48,333.85 373.70,325.10 373.92,333.82 374.14,335.97 374.36,326.29 374.58,330.85 374.80,327.64 375.02,333.22 375.24,337.98 375.46,328.07 375.68,326.37 375.90,326.37 376.12,334.44 376.34,325.18 376.56,332.95 376.78,337.77 377.00,337.03 377.22,335.39 377.44,324.19 377.66,331.34 377.88,328.14 378.10,332.76 378.32,326.58 378.54,326.30 378.76,340.17 378.98,338.97 379.20,325.66 379.42,338.07 379.64,325.12 379.86,329.76 380.08,340.90 380.30,339.99 380.52,331.95 380.74,335.93 380.96,330.51 381.18,338.43 381.40,329.37 381.62,327.51 381.84,326.46 382.06,334.72 382.28,333.48 382.50,339.35 382.72,326.50 382.94,337.68 383.16,340.05 383.38,336.70 383.60,325.96 383.82,326.61 384.04,325.49 384.26,329.68 384.48,336.90 384.70,326.46 384.92,331.63 385.14,324.75 385.36,335.53 385.58,325.68 385.80,337.48 386.02,334.42 386.24,327.24 386.46,335.87 386.68,329.94 386.90,332.90 387.12,333.46 387.34,328.62 387.56,331.09 387.78,337.37 388.00,338.70 388.22,338.43 388.44,333.66 388.66,338.83 388.88,326.39 389.10,340.72 389.32,324.77 389.54,339.29 389.76,337.46 389.98,330.63 390.20,337.44 390.42,340.28 390.64,326.79 390.86,335.04 391.08,324.08 391.30,335.29 391.52,325.05 391.74,335.35 391.96,324.46 392.18,330.86 392.40,338.74 392.62,329.21 392.84,340.48 393.06,332.01 393.28,327.09 393.50,339.92 393.72,326.64 393.94,334.10 394.16,340.03 394.38,339.99 394.60,333.45 394.82,327.61 395.04,332.51 395.26,328.96 395.48,329.34 395.70,329.40 395.92,327.43 396.14,324.66 396.36,336.76 396.58,324.22 396.80,333.74 397.02,330.24 397.24,335.05 397.46,333.87 397.68,332.14 397.90,337.22 398.12,333.72 398.34,339.27 398.56,333.95 398.78,338.90 399.00,338.69 399.22,336.01 399.44,329.60 399.66,332.27 399.88,325.34 400.10,336.33 400.32,334.98 400.54,337.91 400.76,325.43 400.98,326.18 401.20,334.98 401.42,336.45 401.64,325.25 401.86,324.52 402.08,329.52 402.30,329.77 402.52,324.89 402.74,325.66 402.96,327.47 403.18,324.24 403.40,326.51 403.62,324.44 403.84,330.29 404.06,336.73 404.28,335.24 404.50,334.28 404.72,331.95 404.94,327.19 405.16,324.82 405.38,327.15 405.60,340.10 405.82,337.84 406.04,333.69 406.26,334.43 406.48,336.67 406.70,337.97 406.92,328.11 407.14,337.64 407.36,335.02 407.58,328.73 407.80,328.89 408.02,326.91 408.24,333.31 408.46,340.47 408.68,337.43 408.90,326.83 409.12,326.04 409.34,328.79 409.56,326.79 409.78,326.42 410.00,336.44 410.22,329.35 410.44,333.61 410.66,329.36 410.88,340.74 411.10,334.07 411.32,326.37 411.54,337.21 411.76,328.93 411.98,331.74 412.20,328.88 412.42,332.32 412.64,329.23 412.86,329.45 413.08,326.68 413.30,340.32 413.52,327.53 413.74,328.81 413.96,330.97 414.18,326.00 414.40,327.89 414.62,330.92 414.84,333.93 415.06,333.12 415.28,330.27 415.50,335.50 415.72,336.68 415.94,328.51 416.16,328.07 416.38,334.63 416.60,330.99 416.82,338.11 417.04,324.17 417.26,333.21 417.48,329.93 417.70,327.61 417.92,338.75 418.14,327.69 418.36,337.41 418.58,338.52 418.80,340.45 419.02,325.98 419.24,326.65 419.46,325.43 419.68,329.45 419.90,339.41 420.12,334.94 420.34,326.63 420.56,325.79 420.78,336.74 421.00,334.60 421.22,324.04 421.44,333.99 421.66,327.23 421.88,328.99 422.10,325.72 422.32,340.85 422.54,331.77 422.76,334.49 422.98,327.47 423.20,330.38 423.42,335.00 423.64,336.69 423.86,339.42 424.08,328.21 424.30,328.08 424.52,330.85 424.74,329.24 424.96,337.93 425.00,330.31"/>
<polyline stroke="#ff0000" stroke-width="0.48" points="425.00,330.31 425.00,331.32 425.45,327.11 425.90,323.86 426.35,320.06 426.80,316.04 427.25,310.73 427.70,306.92 428.15,302.35 428.60,299.60 429.05,295.60 429.50,291.81 429.95,288.25 430.40,285.11 430.85,277.29 431.30,271.83 431.75,263.53 432.20,256.59 432.65,249.89 433.10,241.48 433.55,231.19 434.00,227.47 434.45,222.45 434.90,220.95 435.35,218.78 435.80,215.26 436.25,214.23 436.70,210.13 437.15,209.51 437.60,208.45 438.05,206.94 438.50,206.48 438.95,206.10 439.40,203.52 439.85,203.38 440.30,202.65 440.75,198.33 441.20,201.75 441.65,196.83 442.10,199.10 442.55,198.62 443.00,199.90 443.45,200.51 443.90,198.56 444.35,192.46 444.80,188.20 445.25,186.13 445.70,189.71 446.15,187.36 446.60,185.18 447.05,183.05 447.50,177.85 447.95,178.65 448.40,175.01 448.85,173.67 449.30,172.86 449.75,167.25 450.20,165.00 450.65,164.46 451.10,156.95 451.55,158.35 452.00,152.98 452.45,154.18 452.90,157.36 453.35,157.68 453.80,156.74 454.25,154.16 454.70,154.03 455.15,152.92 455.60,148.70 456.05,143.56 456.50,139.83 456.95,146.27 457.40,145.64 457.85,144.72 458.30,142.59 458.75,142.75 459.20,143.01 459.65,140.84 460.10,141.80 460.55,137.15 461.00,139.94 461.45,140.02 461.90,138.55 462.35,134.56 462.80,134.53 463.25,142.16 463.70,139.08 464.15,148.39 464.60,144.88 465.05,153.39 465.50,152.29 465.95,162.37 466.40,154.99 466.85,151.07 467.30,152.99 467.75,153.25 468.20,150.30 468.65,152.82 469.10,155.32 469.55,149.88 470.00,149.04 470.45,149.03 470.90,144.62 471.35,142.95 471.80,153.86 472.25,149.28 472.70,160.93 473.15,161.57 473.60,159.66 474.05,165.86 474.50,159.97 474.95,165.83 475.40,162.27 475.85,160.27 476.30,164.74 476.75,154.70 477.20,162.95 477.65,156.98 478.10,164.83 478.55,161.66 479.00,162.58 479.45,165.07 479.90,162.30 480.35,152.62 480.80,152.23 481.25,149.58 481.70,147.52 482.15,133.24 482.60,139.37 483.05,136.67 483.50,137.83 483.95,127.71 484.40,127.53 484.85,135.26 485.30,128.19 485.75,121.95 486.20,120.39 486.65,124.40 487.10,131.78 487.55,134.00 488.00,130.55 488.45,139.35 488.90,135.52 489.35,136.83 489.80,134.31 490.25,133.50 490.70,132.00 491.15,137.13 491.60,132.97 492.05,133.28 492.50,138.97 492.95,148.10 493.40,144.97 493.85,138.62 494.30,143.29 494.75,144.50 495.20,138.77 495.65,149.71 496.10,147.74 496.55,135.97 497.00,142.30 497.45,139.66 497.90,138.82 498.35,140.10 498.80,137.59 499.25,145.80 499.70,141.58 500.15,145.88 500.60,147.34 501.05,144.15 501.50,141.14 501.95,138.45 502.40,145.07 502.85,145.33 503.30,146.68 503.75,138.06 504.20,136.18 504.65,146.32 505.10,142.09 505.55,134.75 506.00,142.05 506.45,132.88 506.90,139.68 507.35,138.80 507.80,142.63 508.25,136.31 508.70,148.64 509.15,150.81 509.60,153.13 510.05,151.08 510.50,144.04 510.95,151.58 511.40,145.71 511.85,145.93 512.30,144.05 512.75,137.18 513.20,144.97 513.65,141.67 514.10,135.52 514.55,136.94 515.00,133.28 515.45,136.81 515.90,144.58 516.35,137.24 516.80,137.93 517.25,143.77 517.70,134.95 518.15,135.96 518.60,144.64 519.05,137.18 519.50,143.97 519.95,147.14 520.40,144.07 520.85,138.02 521.30,139.88 521.75,144.45 522.20,150.05 522.65,146.38 523.10,147.16 523.55,145.84 524.00,140.52 524.45,142.37 524.90,132.79 525.35,136.23 525.80,139.59 526.25,129.88 526.70,133.84 527.15,133.22 527.60,126.33 528.05,135.90 528.50,128.37 528.95,138.16 529.40,130.58 529.85,134.50 530.30,139.33 530.75,138.11 531.20,134.21 531.65,130.88 532.10,136.79 532.55,136.89 533.00,130.53 533.45,135.12 533.90,142.57 534.35,137.89 534.80,133.90 535.25,140.41 535.70,138.43 536.15,144.90 536.60,139.89 537.05,134.35 537.50,136.60"/>
<polyline stroke="#000" stroke-width="0.6" points="63.50,179.36 63.76,179.83 64.02,180.09 64.28,180.15 64.54,180.51 64.80,181.13 65.06,181.02 65.32,181.76 65.58,182.07 65.84,182.24 66.10,182.48 66.36,182.80 66.62,183.11 66.88,183.54 67.14,183.89 67.40,184.25 67.66,184.80 67.92,185.02 68.18,185.27 68.44,185.78 68.70,185.72 68.96,186.02 69.22,186.57 69.48,186.62 69.74,186.94 70.00,187.51 70.26,187.82 70.52,188.38 70.78,188.57 71.04,188.85 71.30,189.18 71.56,189.39 71.82,189.61 72.08,190.04 72.34,190.62 72.60,190.72 72.86,191.14 73.12,191.29 73.38,192.04 73.64,192.04 73.90,192.43 74.16,193.07 74.42,193.22 74.68,193.73 74.94,193.96 75.20,194.35 75.46,194.36 75.72,194.92 75.98,195.24 76.24,195.76 76.50,195.84 76.76,196.30 77.02,196.36 77.28,196.86 77.54,197.17 77.80,197.42 78.06,198.09 78.32,198.21 78.58,198.84 78.84,198.99 79.10,199.34 79.36,199.70 79.62,200.05 79.88,200.13 80.14,200.62 80.40,200.86 80.66,201.28 80.92,201.47 81.18,202.24 81.44,202.21 81.70,202.78 81.96,202.93 82.22,203.56 82.48,203.79 82.74,203.87 83.00,204.57 83.26,204.96 83.52,205.28 83.78,205.45 84.04,205.58 84.30,205.94 84.56,206.65 84.82,206.80 85.08,206.96 85.34,207.65 85.60,207.87 85.86,208.17 86.12,208.42 86.38,208.77 86.64,209.03 86.90,209.27 87.16,210.04 87.42,210.20 87.68,210.59 87.94,210.83 88.20,211.40 88.46,211.40 88.72,211.93 88.98,212.11 89.24,212.51 89.50,213.29 89.76,213.49 90.02,213.73 90.28,214.13 90.54,214.66 90.80,214.76 91.06,215.23 91.32,215.64 91.58,215.83 91.84,216.27 92.10,216.74 92.36,217.17 92.62,217.15 92.88,217.90 93.14,217.79 93.40,218.52 93.66,218.90 93.92,218.86 94.18,219.28 94.44,219.76 94.70,219.65 94.96,220.24 95.22,220.60 95.48,220.74 95.74,221.13 96.00,221.17 96.26,221.44 96.52,221.80 96.78,221.99 97.04,222.36 97.30,222.96 97.56,223.08 97.82,223.27 98.08,223.55 98.34,224.19 98.60,224.25 98.86,224.82 99.12,224.90 99.38,225.21 99.64,225.70 99.90,225.93 100.16,226.16 100.42,226.39 100.68,226.93 100.94,227.00 101.20,227.56 101.46,227.44 101.72,227.93 101.98,228.28 102.24,228.81 102.50,228.77 102.76,229.35 103.02,229.59 103.28,229.87 103.54,230.05 103.80,230.46 104.06,230.37 104.32,230.63 104.58,230.76 104.84,230.92 105.10,231.23 105.36,231.81 105.62,232.00 105.88,231.87 106.14,232.34 106.40,232.51 106.66,232.80 106.92,233.06 107.18,233.12 107.44,233.67 107.70,233.66 107.96,233.97 108.22,234.20 108.48,234.20 108.74,234.37 109.00,234.78 109.26,235.18 109.52,235.42 109.78,235.59 110.04,235.49 110.30,236.11 110.56,236.26 110.82,236.51 111.08,236.55 111.34,236.96 111.60,236.73 111.86,236.94 112.12,237.14 112.38,237.47 112.64,237.68 112.90,237.87 113.16,238.27 113.42,238.22 113.68,238.70 113.94,238.70 114.20,239.17 114.46,239.06 114.72,239.41 114.98,239.94 115.24,239.95 115.50,240.27 115.76,240.38 116.02,240.54 116.28,240.52 116.54,240.90 116.80,240.82 117.06,241.38 117.32,241.65 117.58,241.78 117.84,241.57 118.10,241.90 118.36,242.07 118.62,242.16 118.88,242.60 119.14,242.87 119.40,242.82 119.66,243.28 119.92,243.43 120.18,243.28 120.44,243.79 120.70,244.03 120.96,243.88 121.22,244.24 121.48,244.36 121.74,244.43 122.00,244.25 122.26,244.62 122.52,244.69 122.78,244.87 123.04,244.94 123.30,244.79 123.56,245.07 123.82,245.22 124.08,245.32 124.34,245.04 124.60,245.05 124.86,245.45 125.12,245.31 125.38,245.57 125.64,245.85 125.90,245.65 126.16,245.67 126.42,245.85 126.68,246.04 126.94,245.84 127.20,246.06 127.46,246.02 127.72,246.37 127.98,246.54 128.24,246.40 128.50,246.48 128.76,246.64 129.02,246.57 129.28,246.67 129.54,246.79 129.80,246.94 130.06,246.83 130.32,247.25 130.58,247.25 130.84,247.19 131.10,247.16 131.36,247.59 131.62,247.36 131.88,247.43 132.14,247.47 132.40,247.50 132.66,247.95 132.92,247.68 133.18,247.74 133.44,248.05 133.70,247.99 133.96,247.82 134.22,247.99 134.48,248.26 134.74,248.05 135.00,248.26 135.26,248.00 135.52,248.36 135.78,248.43 136.04,248.50 136.30,248.47 136.56,248.37 136.82,248.26 137.08,248.53 137.34,248.69 137.60,248.46 137.86,248.54 138.12,248.72 138.38,248.87 138.64,248.99 138.90,248.65 139.16,248.73 139.42,249.08 139.68,249.05 139.94,249.13 140.20,249.31 140.46,249.33 140.72,249.33 140.98,249.34 141.24,249.19 141.50,249.36 141.76,249.18 142.02,249.51 142.28,249.56 142.54,249.58 142.80,249.50 143.06,249.53 143.32,249.62 143.58,249.49 143.84,249.97 144.10,249.88 144.36,249.87 144.62,250.02 144.88,250.17 145.14,250.07 145.40,250.36 145.66,250.47 145.92,250.27 146.18,250.21 146.44,250.59 146.70,250.77 146.96,250.42 147.22,250.77 147.48,250.89 147.74,251.00 148.00,250.67 148.26,250.72 148.52,251.24 148.78,250.87 149.04,250.97 149.30,251.23 149.56,251.24 149.82,251.45 150.08,251.24 150.34,251.67 150.60,251.39 150.86,251.73 151.12,251.45 151.38,251.72 151.64,251.56 151.90,251.77 152.16,251.84 152.42,252.11 152.68,252.04 152.94,251.91 153.20,252.44 153.46,252.46 153.72,252.56 153.98,252.32 154.24,252.50 154.50,252.52 154.76,252.57 155.02,252.63 155.28,252.96 155.54,252.88 155.80,253.01 156.06,253.45 156.32,253.37 156.58,253.32 156.84,253.66 157.10,253.56 157.36,253.80 157.62,253.78 157.88,254.00 158.14,254.16 158.40,254.21 158.66,254.24 158.92,254.54 159.18,254.69 159.44,254.44 159.70,254.52 159.96,254.62 160.22,255.15 160.48,255.23 160.74,254.98 161.00,255.45 161.26,255.18 161.52,255.43 161.78,255.53 162.04,255.84 162.30,255.50 162.56,255.74 162.82,255.99 163.08,255.82 163.34,256.01 163.60,256.23 163.86,256.54 164.12,256.58 164.38,256.72 164.64,256.80 164.90,256.90 165.16,257.10 165.42,257.15 165.68,257.31 165.94,257.22 166.20,257.28 166.46,257.71 166.72,256.92 166.98,256.69 167.24,255.93 167.50,255.19 167.76,254.89 168.02,253.89 168.28,253.47 168.54,252.65 168.80,252.49 169.06,251.69 169.32,251.20 169.58,250.33 169.84,249.99 170.10,249.33 170.36,248.70 170.62,248.25 170.88,247.38 171.14,246.77 171.40,246.30 171.66,245.77 171.92,244.92 172.18,244.48 172.44,243.64 172.70,243.21 172.96,242.72 173.22,241.76 173.48,241.49 173.74,240.52 174.00,240.39 174.26,239.54 174.52,238.91 174.78,238.45 175.04,237.74 175.30,237.23 175.56,236.29 175.82,235.91 176.08,235.30 176.34,234.87 176.60,233.81 176.86,233.40 177.12,232.88 177.38,232.23 177.64,231.37 177.90,231.02 178.16,230.22 178.42,229.59 178.68,229.32 178.94,228.37 179.20,227.88 179.46,227.41 179.72,226.78 179.98,226.09 180.24,225.60 180.50,224.82 180.76,224.28 181.02,223.77 181.28,223.08 181.54,222.45 181.80,221.75 182.06,221.32 182.32,220.72 182.58,220.38 182.84,219.68 183.10,219.21 183.36,218.84 183.62,218.19 183.88,217.60 184.14,217.33 184.40,216.59 184.66,216.30 184.92,215.76 185.18,215.07 185.44,214.69 185.70,213.84 185.96,213.50 186.22,213.22 186.48,212.56 186.74,212.04 187.00,211.57 187.26,211.06 187.52,210.51 187.78,210.05 188.04,209.55 188.30,209.22 188.56,208.84 188.82,208.52 189.08,208.43 189.34,207.72 189.60,207.39 189.86,206.97 190.12,206.69 190.38,206.49 190.64,206.08 190.90,205.44 191.16,205.00 191.42,204.93 191.68,204.35 191.94,204.06 192.20,203.37 192.46,203.39 192.60,202.91 192.80,203.00"/>
<polyline stroke="#000" stroke-width="0.3" points="192.80,203.00 193.00,238.00"/>
<polyline stroke="#000" stroke-width="0.4" points="193.00,238.00 193.00,238.00 193.45,238.00 193.90,274.39 194.35,239.80 194.80,242.00 195.25,277.47 195.70,280.55 196.15,245.00 196.60,248.00 197.05,283.63 197.50,286.82 197.95,251.00 198.40,254.00 198.85,290.09 199.30,293.36 199.75,257.00 200.20,260.00 200.65,296.64 201.10,299.91 201.55,263.00 202.00,266.03 202.45,303.18 202.90,306.76 203.35,269.10 203.80,272.18 204.25,310.73 204.70,314.69 205.15,275.25 205.60,278.35 206.05,318.66 206.50,322.63 206.95,281.50 207.40,284.65 207.85,326.59 208.30,330.56 208.75,291.40 209.20,298.60 209.65,331.00 210.10,331.00 210.55,306.30 211.00,318.00 211.45,331.00 211.90,331.00 212.35,329.70"/>
<polyline stroke="#000" stroke-width="0.6" points="193.60,239.20 193.75,273.37 196.40,282.95 196.55,247.33 199.20,256.67 199.35,293.00 202.00,303.18 202.15,266.03 204.80,275.59 204.95,315.14 207.60,327.47 207.75,285.80 210.40,310.20 210.55,331.00"/>
<polyline stroke="#000" stroke-width="0.32" points="212.00,331.50 212.26,331.32 212.52,331.45 212.78,331.70 213.04,331.70 213.30,331.48 213.56,331.66 213.82,331.47 214.08,331.42 214.34,331.53 214.60,331.32 214.86,331.39 215.12,331.62 215.38,331.66 215.64,331.23 215.90,331.64 216.16,331.69 216.42,331.47 216.68,331.24 216.94,331.61 217.20,331.35 217.46,331.59 217.72,331.43 217.98,331.58 218.24,331.35 218.50,331.49 218.76,331.51 219.02,331.58 219.28,331.32 219.54,331.78 219.80,331.37 220.06,331.38 220.32,331.35 220.58,331.24 220.84,331.45 221.10,331.66 221.36,331.63 221.62,331.32 221.88,331.28 222.14,331.39 222.40,331.66 222.66,331.49 222.92,331.75 223.18,331.59 223.44,331.57 223.70,331.66 223.96,331.65 224.22,331.41 224.48,331.35 224.74,331.46 225.00,331.49 225.26,331.29 225.52,331.46 225.78,331.58 226.04,331.28 226.30,331.28 226.56,331.30 226.82,331.37 227.08,331.78 227.34,331.22 227.60,331.31 227.86,331.30 228.12,331.48 228.38,331.21 228.64,331.47 228.90,331.30 229.16,331.36 229.42,331.68 229.68,331.31 229.94,331.57 230.20,331.44 230.46,331.45 230.72,331.69 230.98,331.30 231.24,331.75 231.50,331.74 231.76,331.60 232.02,331.23 232.28,331.60 232.54,331.56 232.80,331.66 233.06,331.33 233.32,331.77 233.58,331.73 233.84,331.27 234.10,331.39 234.36,331.22 234.62,331.70 234.88,331.75 235.14,331.79 235.40,331.57 235.66,331.60 235.92,331.61 236.18,331.54 236.44,331.77 236.70,331.56 236.96,331.40 237.22,331.51 237.48,331.21 237.74,331.63 238.00,331.62 238.26,331.45 238.52,331.71 238.78,331.65 239.04,331.40 239.30,331.25 239.56,331.28 239.82,331.31 240.08,331.38 240.34,331.47 240.60,331.76 240.86,331.37 241.12,331.74 241.38,331.61 241.64,331.71 241.90,331.44 242.16,331.20 242.42,331.67 242.68,331.35 242.94,331.29 243.20,331.68 243.46,331.61 243.72,331.33 243.98,331.36 244.24,331.76 244.50,331.36 244.76,331.62 245.02,331.28 245.28,331.69 245.54,331.27 245.80,331.51 246.06,331.22 246.32,331.53 246.58,331.71 246.84,331.25 247.10,331.36 247.36,331.66 247.62,331.56 247.88,331.39 248.14,331.58 248.40,331.47 248.66,331.72 248.92,331.38 249.18,331.65 249.44,331.58 249.70,331.64 249.96,331.43 250.22,331.63 250.48,331.62 250.74,331.43 251.00,331.22 251.26,331.78 251.52,331.63 251.78,331.32 252.04,331.64 252.30,331.37 252.56,331.48 252.82,331.72 253.08,331.47 253.34,331.37 253.60,331.38 253.86,331.25 254.12,331.33 254.38,331.36 254.64,331.30 254.90,331.24 255.16,331.48 255.42,331.33 255.68,331.64 255.94,331.75 256.20,331.36 256.46,331.54 256.72,331.50 256.98,331.25 257.24,331.27 257.50,331.73 257.76,331.48 258.02,331.68 258.28,331.24 258.54,331.56 258.80,331.72 259.06,331.72 259.32,331.20 259.58,331.51 259.84,331.42 260.10,331.66 260.36,331.24 260.62,331.36 260.88,331.69 261.14,331.48 261.40,331.47 261.66,331.78 261.92,331.39 262.18,331.23 262.44,331.44 262.70,331.29 262.96,331.25 263.22,331.54 263.48,331.77 263.74,331.55 264.00,331.59 264.26,331.39 264.52,331.54 264.78,331.65 265.04,331.55 265.30,331.68 265.56,331.53 265.82,331.32 266.08,331.55 266.34,331.49 266.60,331.30 266.86,331.57 267.12,331.69 267.38,331.28 267.64,331.53 267.90,331.64 268.16,331.44 268.42,331.36 268.68,331.42 268.94,331.53 269.20,331.61 269.46,331.54 269.72,331.26 269.98,331.69 270.24,331.75 270.50,331.26 270.76,331.35 271.02,331.30 271.28,331.71 271.54,331.75 271.80,331.23 272.06,331.40 272.32,331.32 272.58,331.48 272.84,331.75 273.10,331.24 273.36,331.30 273.62,331.49 273.88,331.51 274.14,331.65 274.40,331.46 274.66,331.28 274.92,331.41 275.18,331.79 275.44,331.65 275.70,331.27 275.96,331.68 276.22,331.39 276.48,331.67 276.74,331.21 277.00,331.72 277.26,331.30 277.52,331.47 277.78,331.60 278.04,331.50 278.30,331.30 278.56,331.28 278.82,331.37 279.08,331.23 279.34,331.33 279.60,331.28 279.86,331.48 280.12,331.41 280.38,331.55 280.64,331.37 280.90,331.22 281.16,331.40 281.42,331.65 281.68,331.35 281.94,331.44 282.20,331.65 282.46,331.44 282.72,331.73 282.98,331.75 283.24,331.39 283.50,331.64 283.76,331.35 284.02,331.28 284.28,331.46 284.54,331.56 284.80,331.76 285.06,331.29 285.32,331.63 285.58,331.49 285.84,331.28 286.10,331.78 286.36,331.62 286.62,331.28 286.88,331.74 287.14,331.26 287.40,331.26 287.66,331.40 287.92,331.76 288.18,331.22 288.44,331.75 288.70,331.57 288.96,331.24 289.22,331.54 289.48,331.48 289.74,331.54 290.00,331.64 290.26,331.61 290.52,331.80 290.78,331.29 291.04,331.69 291.30,331.45 291.56,331.67 291.82,331.74 292.08,331.80 292.34,331.36 292.60,331.47 292.86,331.77 293.12,331.77 293.38,331.42 293.64,331.76 293.90,331.44 294.16,331.42 294.42,331.65 294.68,331.48 294.94,331.47 295.20,331.43 295.46,331.46 295.72,331.28 295.98,331.24 296.24,331.65 296.50,331.54 296.76,331.60 297.02,331.68 297.28,331.34 297.54,331.34 297.80,331.37 298.06,331.38 298.32,331.66 298.58,331.42 298.84,331.39 299.10,331.58 299.36,331.31 299.62,331.26 299.88,331.62 300.14,331.65 300.40,331.38 300.66,331.58 300.92,331.22 301.18,331.44 301.44,331.55 301.70,331.35 301.96,331.41 302.22,331.57 302.48,331.55 302.74,331.29 303.00,331.62 303.26,331.25 303.52,331.78 303.78,331.32 304.04,331.35 304.30,331.32 304.56,331.79 304.82,331.37 305.08,331.56 305.34,331.79 305.60,331.77 305.86,331.23 306.12,331.51 306.38,331.56 306.64,331.62 306.90,331.40 307.16,331.40 307.42,331.20 307.68,331.22 307.94,331.53 308.20,331.25 308.46,331.32 308.72,331.40 308.98,331.24 309.24,331.22 309.50,331.76 309.76,331.46 310.02,331.32 310.28,331.63 310.54,331.21 310.80,331.35 311.06,331.78 311.32,331.74 311.58,331.58 311.84,331.26 312.10,331.39 312.36,331.22 312.62,331.33 312.88,331.22 313.14,331.28 313.40,331.58 313.66,331.26 313.92,331.29 314.18,331.74 314.44,331.40 314.70,331.40 314.96,331.25 315.22,331.68 315.48,331.61 315.74,331.53 316.00,331.57 316.26,331.26 316.52,331.36 316.78,331.55 317.04,331.77 317.30,331.69 317.56,331.58 317.82,331.51 318.08,331.21 318.34,331.73 318.60,331.24 318.86,331.28 319.12,331.62 319.38,331.69 319.64,331.67 319.90,331.47 320.16,331.31 320.42,331.22 320.68,331.71 320.94,331.79 321.20,331.35 321.46,331.72 321.72,331.44 321.98,331.39 322.24,331.50 322.50,331.20 322.76,331.47 323.02,331.32 323.28,331.63 323.54,331.50 323.80,331.72 324.06,331.74 324.32,331.39 324.58,331.37 324.84,331.76 325.10,331.50 325.36,331.26 325.62,331.23 325.88,331.79 326.14,331.55 326.40,331.23 326.66,331.51 326.92,331.50 327.18,331.46 327.44,331.77 327.70,331.77 327.96,331.27 328.22,331.29 328.48,331.44 328.74,331.70 329.00,331.57 329.26,331.64 329.52,331.55 329.78,331.33 330.04,331.69 330.30,331.21 330.56,331.62 330.82,331.32 331.08,331.48 331.34,331.79 331.60,331.52 331.86,331.23 332.12,331.46 332.38,331.60 332.64,331.23 332.90,331.35 333.16,331.21 333.42,331.52 333.68,331.43 333.94,331.50 334.20,331.38 334.46,331.59 334.72,331.30 334.98,331.74 335.24,331.78 335.50,331.50 335.76,331.48 336.02,331.72 336.28,331.37 336.54,331.68 336.80,331.37 337.06,331.63 337.32,331.40 337.58,331.56 337.84,331.76 338.10,331.23 338.36,331.68 338.62,331.53 338.88,331.43 339.14,331.41 339.40,331.24 339.66,331.36 339.92,331.57 340.18,331.26 340.44,331.60 340.70,331.78 340.96,331.79 341.22,331.73 341.48,331.68 341.74,331.31 342.00,331.78 342.26,331.32 342.52,331.72 342.78,331.73 343.04,331.57 343.30,331.51 343.56,331.32 343.82,331.51 344.08,331.37 344.34,331.28 344.60,331.28 344.86,331.68 345.12,331.75 345.38,331.29 345.64,331.21 345.90,331.36 346.16,331.28 346.42,331.31 346.68,331.55 346.94,331.45 347.20,331.46 347.46,331.32 347.72,331.60 347.98,331.37 348.24,331.44 348.50,331.48 348.76,331.74 349.02,331.35 349.28,331.63 349.54,331.39 349.80,331.74 350.06,331.44 350.32,331.50 350.58,331.73 350.84,331.60 351.10,331.26 351.36,331.28 351.62,331.79 351.88,331.22 352.14,331.38 352.40,331.78 352.66,331.21 352.92,331.30 353.18,331.33 353.44,331.25 353.70,331.48 353.96,331.56 354.22,331.39 354.48,331.27 354.74,331.69 355.00,331.68 355.26,331.54 355.52,331.28 355.78,331.53 356.04,331.58 356.30,331.46 356.56,331.72 356.82,331.43 357.08,331.51 357.34,331.27 357.60,331.54 357.86,331.66 358.12,331.64 358.38,331.35 358.64,331.80 358.90,331.63 359.16,331.45 359.42,331.45 359.68,331.67 359.94,331.31 360.20,331.58 360.46,331.63 360.72,331.51 360.98,331.72 361.24,331.48 361.50,331.48 361.76,331.37 362.02,331.75 362.28,331.39 362.54,331.62 362.80,331.45 363.06,331.76 363.32,331.77 363.58,331.22 363.84,331.80 364.10,331.56 364.36,331.24 364.62,331.50 364.88,331.23 365.14,331.53 365.40,331.31 365.66,331.42 365.92,331.38 366.18,331.56 366.44,331.69 366.70,331.76 366.96,331.40 367.22,331.54 367.48,331.20 367.74,331.42 368.00,331.78 368.26,331.27 368.52,331.72 368.78,331.59 369.04,331.38 369.30,331.67 369.56,331.37 369.82,331.74 370.08,331.25 370.34,331.27 370.60,331.65 370.86,331.47 371.12,331.29 371.38,331.51 371.64,331.38 371.90,331.53 372.16,331.65 372.42,331.71 372.68,331.24 372.94,331.56 373.20,331.79 373.46,331.48 373.72,331.66 373.98,331.26 374.24,331.72 374.50,331.55 374.76,331.73 375.02,331.67 375.28,331.72 375.54,331.23 375.80,331.63 376.06,331.32 376.32,331.36 376.58,331.39 376.84,331.55 377.10,331.58 377.36,331.76 377.62,331.21 377.88,331.32 378.14,331.42 378.40,331.69 378.66,331.53 378.92,331.51 379.18,331.66 379.44,331.59 379.70,331.37 379.96,331.25 380.22,331.48 380.48,331.73 380.74,331.56 381.00,331.23 381.26,331.46 381.52,331.43 381.78,331.55 382.04,331.55 382.30,331.77 382.56,331.40 382.82,331.44 383.08,331.57 383.34,331.73 383.60,331.62 383.86,331.48 384.12,331.69 384.38,331.49 384.64,331.78 384.90,331.37 385.16,331.28 385.42,331.70 385.68,331.38 385.94,331.71 386.20,331.57 386.46,331.51 386.72,331.25 386.98,331.67 387.24,331.24 387.50,331.78 387.76,331.73 388.02,331.38 388.28,331.28 388.54,331.73 388.80,331.49 389.06,331.27 389.32,331.50 389.58,331.35 389.84,331.44 390.10,331.58 390.36,331.75 390.62,331.68 390.88,331.30 391.14,331.49 391.40,331.50 391.66,331.79 391.92,331.25 392.18,331.51 392.44,331.75 392.70,331.44 392.96,331.36 393.22,331.53 393.48,331.39 393.74,331.76 394.00,331.25 394.26,331.32 394.52,331.25 394.78,331.63 395.04,331.38 395.30,331.74 395.56,331.74 395.82,331.76 396.08,331.35 396.34,331.20 396.60,331.43 396.86,331.78 397.12,331.66 397.38,331.24 397.64,331.62 397.90,331.75 398.16,331.78 398.42,331.63 398.68,331.72 398.94,331.71 399.20,331.42 399.46,331.26 399.72,331.64 399.98,331.28 400.24,331.43 400.50,331.80 400.76,331.54 401.02,331.51 401.28,331.77 401.54,331.37 401.80,331.80 402.06,331.75 402.32,331.42 402.58,331.40 402.84,331.28 403.10,331.75 403.36,331.31 403.62,331.21 403.88,331.73 404.14,331.56 404.40,331.60 404.66,331.64 404.92,331.23 405.18,331.26 405.44,331.50 405.70,331.23 405.96,331.50 406.22,331.64 406.48,331.59 406.74,331.57 407.00,331.23 407.26,331.34 407.52,331.74 407.78,331.27 408.04,331.52 408.30,331.23 408.56,331.76 408.82,331.30 409.08,331.45 409.34,331.53 409.60,331.63 409.86,331.76 410.12,331.64 410.38,331.41 410.64,331.25 410.90,331.62 411.16,331.78 411.42,331.21 411.68,331.66 411.94,331.31 412.20,331.48 412.46,331.51 412.72,331.57 412.98,331.79 413.24,331.61 413.50,331.44 413.76,331.63 414.02,331.48 414.28,331.45 414.54,331.42 414.80,331.50 415.06,331.37 415.32,331.35 415.58,331.29 415.84,331.46 416.10,331.38 416.36,331.70 416.62,331.71 416.88,331.41 417.14,331.57 417.40,331.74 417.66,331.42 417.92,331.53 418.18,331.47 418.44,331.59 418.70,331.78 418.96,331.28 419.22,331.78 419.48,331.60 419.74,331.68 420.00,331.58 420.26,331.72 420.52,331.40 420.78,331.62 421.04,331.36 421.30,331.51 421.56,331.61 421.82,331.32 422.08,331.24 422.34,331.67 422.60,331.69 422.86,331.60 423.12,331.39 423.38,331.59 423.64,331.25 423.90,331.60 424.16,331.55 424.42,331.57 424.68,331.47 424.94,331.34 425.00,331.64"/>
<polyline stroke="#000" stroke-width="0.3" points="425.00,331.50 425.50,331.50 426.00,331.50 426.50,318.90 427.00,306.30 427.50,323.20 428.00,312.82 428.50,285.29 429.00,255.88 429.50,302.45 430.00,292.07 430.50,238.24 431.00,223.08 431.50,272.22 432.00,250.00 432.50,203.85 433.00,191.30 433.50,240.00 434.00,230.00 434.50,180.43 435.00,166.07 435.50,220.00 436.00,210.00 436.50,145.17 437.00,119.57 437.50,200.00 438.00,188.64 438.50,117.22 439.00,115.00 439.50,177.27 440.00,170.71 440.50,112.78 441.00,110.56 441.50,165.36 442.00,160.00 442.50,108.39 443.00,106.34 443.50,155.88 444.00,151.75 444.50,104.31 445.00,102.40 445.50,147.62 446.00,143.50 446.50,100.50"/>
<polyline stroke="#000" stroke-width="0.45" points="426.50,312.60 426.65,328.39 429.10,301.41 429.25,252.94 431.70,209.62 431.85,256.67 434.30,227.00 434.45,177.17 436.90,119.86 437.05,201.00 439.50,173.39 439.65,113.89 442.10,108.18 442.25,159.59 444.70,148.86 444.85,102.98"/>
<polyline stroke="#000" stroke-width="0.6" points="446.00,100.48 446.26,100.19 446.52,99.57 446.78,99.00 447.04,98.80 447.30,98.41 447.56,98.13 447.82,97.68 448.08,96.84 448.34,96.77 448.60,96.08 448.86,95.66 449.12,94.85 449.38,94.18 449.64,93.62 449.90,93.00 450.16,92.44 450.42,91.77 450.68,91.23 450.94,90.58 451.20,90.21 451.46,89.53 451.72,89.15 451.98,88.57 452.24,88.11 452.50,87.32 452.76,87.05 453.02,86.40 453.28,85.97 453.54,85.30 453.80,85.08 454.06,84.70 454.32,83.92 454.58,83.29 454.84,83.04 455.10,82.29 455.36,82.17 455.62,81.28 455.88,80.89 456.14,80.45 456.40,79.76 456.66,79.35 456.92,78.83 457.18,78.54 457.44,78.18 457.70,77.37 457.96,77.09 458.22,76.26 458.48,75.99 458.74,75.42 459.00,74.85 459.26,74.62 459.52,74.09 459.78,73.31 460.04,72.92 460.30,72.72 460.56,72.33 460.82,71.67 461.08,71.33 461.34,70.92 461.60,70.33 461.86,69.81 462.12,69.13 462.38,68.74 462.64,68.39 462.90,68.07 463.16,67.29 463.42,66.87 463.68,66.21 463.94,66.08 464.20,65.49 464.46,65.19 464.72,64.44 464.98,64.19 465.24,63.72 465.50,63.15 465.76,62.54 466.02,62.18 466.28,61.88 466.54,61.13 466.80,60.63 467.06,60.38 467.32,59.83 467.58,59.68 467.84,59.26 468.10,58.89 468.36,58.40 468.62,57.87 468.88,57.21 469.14,57.09 469.40,56.61 469.66,56.19 469.92,55.73 470.18,55.37 470.44,54.67 470.70,54.42 470.96,53.91 471.22,53.39 471.48,52.95 471.74,52.43 472.00,52.09 472.26,51.50 472.52,51.00 472.78,50.69 473.04,50.07 473.30,49.54 473.56,49.17 473.82,48.26 474.08,47.87 474.34,47.14 474.60,46.76 474.86,46.51 475.12,46.11 475.38,47.14 475.64,47.89 475.90,48.40 476.16,49.24 476.42,49.76 476.68,50.41 476.94,51.18 477.20,51.71 477.46,52.46 477.72,53.16 477.98,54.19 478.24,54.56 478.50,55.20 478.76,56.25 479.02,56.54 479.28,57.65 479.54,58.28 479.80,58.87 480.06,59.46 480.32,60.04 480.58,60.68 480.84,61.38 481.10,62.17 481.36,62.84 481.62,63.73 481.88,64.18 482.14,65.04 482.40,65.54 482.66,65.89 482.92,66.74 483.18,67.18 483.44,67.75 483.70,68.84 483.96,69.18 484.22,69.74 484.48,70.34 484.74,71.25 485.00,71.79 485.26,72.20 485.52,73.19 485.78,73.60 486.04,74.50 486.30,74.99 486.56,75.84 486.82,76.62 487.08,77.54 487.34,78.52 487.60,79.24 487.86,79.70 488.12,80.73 488.38,81.42 488.64,82.17 488.90,83.03 489.16,83.88 489.42,85.05 489.68,85.76 489.94,86.64 490.20,87.38 490.46,88.00 490.72,88.86 490.98,89.70 491.24,90.45 491.50,91.33 491.76,92.32 492.02,92.75 492.28,93.63 492.54,94.51 492.80,95.39 493.06,96.15 493.32,96.97 493.58,97.44 493.84,98.26 494.10,99.10 494.36,99.87 494.62,100.89 494.88,101.79 495.14,102.41 495.40,102.87 495.66,103.78 495.92,104.81 496.18,105.65 496.44,106.27 496.70,106.92 496.96,107.71 497.22,108.60 497.48,109.17 497.74,109.37 498.00,109.75 498.26,110.12 498.52,110.64 498.78,111.46 499.04,111.80 499.30,112.44 499.56,112.44 499.82,113.04 500.08,113.71 500.34,114.10 500.60,114.26 500.86,114.89 501.12,115.47 501.38,115.95 501.64,116.29 501.90,116.61 502.16,117.46 502.42,117.67 502.68,118.23 502.94,118.51 503.20,118.67 503.46,119.12 503.72,119.41 503.98,119.86 504.24,120.24 504.50,120.73 504.76,121.06 505.02,121.46 505.28,122.08 505.54,122.07 505.80,122.50 506.06,123.24 506.32,123.50 506.58,123.84 506.84,124.14 507.10,124.67 507.36,124.90 507.62,125.61 507.88,125.98 508.14,126.12 508.40,126.36 508.66,127.18 508.92,127.28 509.18,127.86 509.44,128.36 509.70,128.74 509.96,129.17 510.22,129.39 510.48,129.97 510.74,130.18 511.00,130.49 511.26,131.00 511.52,131.33 511.78,131.95 512.04,132.38 512.30,132.44 512.56,132.86 512.82,133.37 513.08,133.81 513.34,134.46 513.60,134.86 513.86,135.27 514.12,135.56 514.38,135.94 514.64,136.14 514.90,136.54 515.16,136.63 515.42,137.32 515.68,137.31 515.94,137.49 516.20,137.88 516.46,138.16 516.72,138.63 516.98,138.55 517.24,138.93 517.50,139.54 517.76,139.79 518.02,139.95 518.28,140.19 518.54,140.30 518.80,140.85 519.06,141.01 519.32,141.10 519.58,141.14 519.84,141.38 520.10,141.67 520.36,141.86 520.62,141.94 520.88,142.33 521.14,142.56 521.40,142.69 521.66,142.96 521.92,143.14 522.18,143.38 522.44,143.72 522.70,143.87 522.96,143.93 523.22,144.44 523.48,144.52 523.74,144.70 524.00,145.05 524.26,145.28 524.52,145.54 524.78,145.74 525.04,145.88 525.30,146.12 525.56,146.05 525.82,146.53 526.08,146.51 526.34,146.70 526.60,146.83 526.86,147.16 527.12,147.16 527.38,147.67 527.64,147.91 527.90,148.11 528.16,147.98 528.42,148.43 528.68,148.72 528.94,148.51 529.20,148.78 529.46,149.01 529.72,149.30 529.98,149.35 530.24,149.72 530.50,149.82 530.76,150.16 531.02,150.29 531.28,150.56 531.54,150.53 531.80,150.96 532.06,151.15 532.32,151.30 532.58,151.13 532.84,151.73 533.10,151.70 533.36,151.70 533.62,151.94 533.88,152.14 534.14,152.29 534.40,152.31 534.66,152.48 534.92,152.68 535.18,153.05 535.44,153.03 535.70,152.99 535.96,153.35 536.22,153.38 536.48,153.44 536.74,154.08 537.00,153.90 537.26,154.17 537.50,154.23"/>
</g>
<path d="M63.50,368.50V363.90M63.50,10.50V15.10M84.09,368.50V363.90M84.09,10.50V15.10M104.68,368.50V363.90M104.68,10.50V15.10M125.27,368.50V363.90M125.27,10.50V15.10M145.86,368.50V363.90M145.86,10.50V15.10M166.45,368.50V363.90M166.45,10.50V15.10M187.04,368.50V363.90M187.04,10.50V15.10M207.63,368.50V363.90M207.63,10.50V15.10M228.22,368.50V363.90M228.22,10.50V15.10M248.81,368.50V363.90M248.81,10.50V15.10M269.40,368.50V363.90M269.40,10.50V15.10M289.99,368.50V363.90M289.99,10.50V15.10M310.58,368.50V363.90M310.58,10.50V15.10M331.17,368.50V363.90M331.17,10.50V15.10M351.76,368.50V363.90M351.76,10.50V15.10M372.35,368.50V363.90M372.35,10.50V15.10M392.94,368.50V363.90M392.94,10.50V15.10M413.53,368.50V363.90M413.53,10.50V15.10M434.12,368.50V363.90M434.12,10.50V15.10M454.71,368.50V363.90M454.71,10.50V15.10M475.30,368.50V363.90M475.30,10.50V15.10M495.89,368.50V363.90M495.89,10.50V15.10M516.48,368.50V363.90M516.48,10.50V15.10M537.07,368.50V363.90M537.07,10.50V15.10M63.50,367.10H68.10M537.50,367.10H532.90M63.50,331.45H68.10M537.50,331.45H532.90M63.50,295.80H68.10M537.50,295.80H532.90M63.50,260.15H68.10M537.50,260.15H532.90M63.50,224.50H68.10M537.50,224.50H532.90M63.50,188.85H68.10M537.50,188.85H532.90M63.50,153.20H68.10M537.50,153.20H532.90M63.50,117.55H68.10M537.50,117.55H532.90M63.50,81.90H68.10M537.50,81.90H532.90M63.50,46.25H68.10M537.50,46.25H532.90M63.50,10.60H68.10M537.50,10.60H532.90" stroke="#9c9c9c" stroke-width="1" fill="none"/>
<path d="M537.5,10.5V368.5" stroke="#b4b4b4" stroke-width="1.2" fill="none"/>
<path d="M63.5,10.5H537.5" stroke="#9a9a9a" stroke-width="1" fill="none"/>
<path d="M63.5,10.0V369.0M63.0,368.5H538.0" stroke="#868686" stroke-width="1" fill="none"/>
<g font-family="'Liberation Serif',serif" font-size="15.6" fill="#000" stroke="#000" stroke-width="0.12">
<text transform="translate(60,373.00) scale(1,1.12)" text-anchor="end">0.01</text>
<text transform="translate(60,337.35) scale(1,1.12)" text-anchor="end">0.02</text>
<text transform="translate(60,301.70) scale(1,1.12)" text-anchor="end">0.03</text>
<text transform="translate(60,266.05) scale(1,1.12)" text-anchor="end">0.04</text>
<text transform="translate(60,230.40) scale(1,1.12)" text-anchor="end">0.05</text>
<text transform="translate(60,194.75) scale(1,1.12)" text-anchor="end">0.06</text>
<text transform="translate(60,159.10) scale(1,1.12)" text-anchor="end">0.07</text>
<text transform="translate(60,123.45) scale(1,1.12)" text-anchor="end">0.08</text>
<text transform="translate(60,87.80) scale(1,1.12)" text-anchor="end">0.09</text>
<text transform="translate(60,52.15) scale(1,1.12)" text-anchor="end">0.1</text>
<text transform="translate(60,16.50) scale(1,1.12)" text-anchor="end">0.11</text>
<text transform="translate(63.50,385.3) scale(1,1.12)" text-anchor="middle">0</text>
<text transform="translate(84.09,385.3) scale(1,1.12)" text-anchor="middle">1</text>
<text transform="translate(104.68,385.3) scale(1,1.12)" text-anchor="middle">2</text>
<text transform="translate(125.27,385.3) scale(1,1.12)" text-anchor="middle">3</text>
<text transform="translate(145.86,385.3) scale(1,1.12)" text-anchor="middle">4</text>
<text transform="translate(166.45,385.3) scale(1,1.12)" text-anchor="middle">5</text>
<text transform="translate(187.04,385.3) scale(1,1.12)" text-anchor="middle">6</text>
<text transform="translate(207.63,385.3) scale(1,1.12)" text-anchor="middle">7</text>
<text transform="translate(228.22,385.3) scale(1,1.12)" text-anchor="middle">8</text>
<text transform="translate(248.81,385.3) scale(1,1.12)" text-anchor="middle">9</text>
<text transform="translate(269.40,385.3) scale(1,1.12)" text-anchor="middle">10</text>
<text transform="translate(289.99,385.3) scale(1,1.12)" text-anchor="middle">11</text>
<text transform="translate(310.58,385.3) scale(1,1.12)" text-anchor="middle">12</text>
<text transform="translate(331.17,385.3) scale(1,1.12)" text-anchor="middle">13</text>
<text transform="translate(351.76,385.3) scale(1,1.12)" text-anchor="middle">14</text>
<text transform="translate(372.35,385.3) scale(1,1.12)" text-anchor="middle">15</text>
<text transform="translate(392.94,385.3) scale(1,1.12)" text-anchor="middle">16</text>
<text transform="translate(413.53,385.3) scale(1,1.12)" text-anchor="middle">17</text>
<text transform="translate(434.12,385.3) scale(1,1.12)" text-anchor="middle">18</text>
<text transform="translate(454.71,385.3) scale(1,1.12)" text-anchor="middle">19</text>
<text transform="translate(475.30,385.3) scale(1,1.12)" text-anchor="middle">20</text>
<text transform="translate(495.89,385.3) scale(1,1.12)" text-anchor="middle">21</text>
<text transform="translate(516.48,385.3) scale(1,1.12)" text-anchor="middle">22</text>
<text transform="translate(537.07,385.3) scale(1,1.12)" text-anchor="middle">23</text>
</g>
<text font-family="'Liberation Serif',serif" font-size="23.1" stroke="#000" stroke-width="0.2" transform="translate(299.0,408.6) scale(1,1.04)" text-anchor="middle" textLength="131.4" lengthAdjust="spacing">Time in hours</text>
<text font-family="'Liberation Serif',serif" font-size="23.1" stroke="#000" stroke-width="0.2" transform="translate(20.4,188.6) rotate(-90) scale(1.024,1)" text-anchor="middle">Power in MW</text>
<rect x="78.5" y="24.5" width="340.4" height="79" fill="#fff" stroke="#a4a4a4" stroke-width="1"/>
<line x1="85" y1="35.8" x2="120.2" y2="35.8" stroke="rgb(205,228,208)" stroke-width="1.6"/>
<line x1="85" y1="54.3" x2="120.2" y2="54.3" stroke="rgb(205,205,255)" stroke-width="1.6"/>
<line x1="85" y1="73.0" x2="120.2" y2="73.0" stroke="rgb(255,140,140)" stroke-width="1.6"/>
<line x1="85" y1="91.4" x2="120.2" y2="91.4" stroke="rgb(112,112,112)" stroke-width="1.1"/>
<g font-family="'Liberation Serif',serif" font-size="14.7" fill="#000" stroke="#000" stroke-width="0.12">
<text transform="translate(123.4,41.3) scale(1,1.05)" textLength="248.4" lengthAdjust="spacingAndGlyphs">PFC obtained using fuzzy based PI control</text>
<text transform="translate(123.4,60.3) scale(1,1.05)" textLength="290.9" lengthAdjust="spacingAndGlyphs">PFC obtained using optimal operation of simplex</text>
<text transform="translate(123.4,79.2) scale(1,1.05)" textLength="263.8" lengthAdjust="spacingAndGlyphs">PFC obtained using optimal operation of GA</text>
<text transform="translate(123.4,98.1) scale(1,1.05)">PFCref</text>
</g>
</svg></body></html>
